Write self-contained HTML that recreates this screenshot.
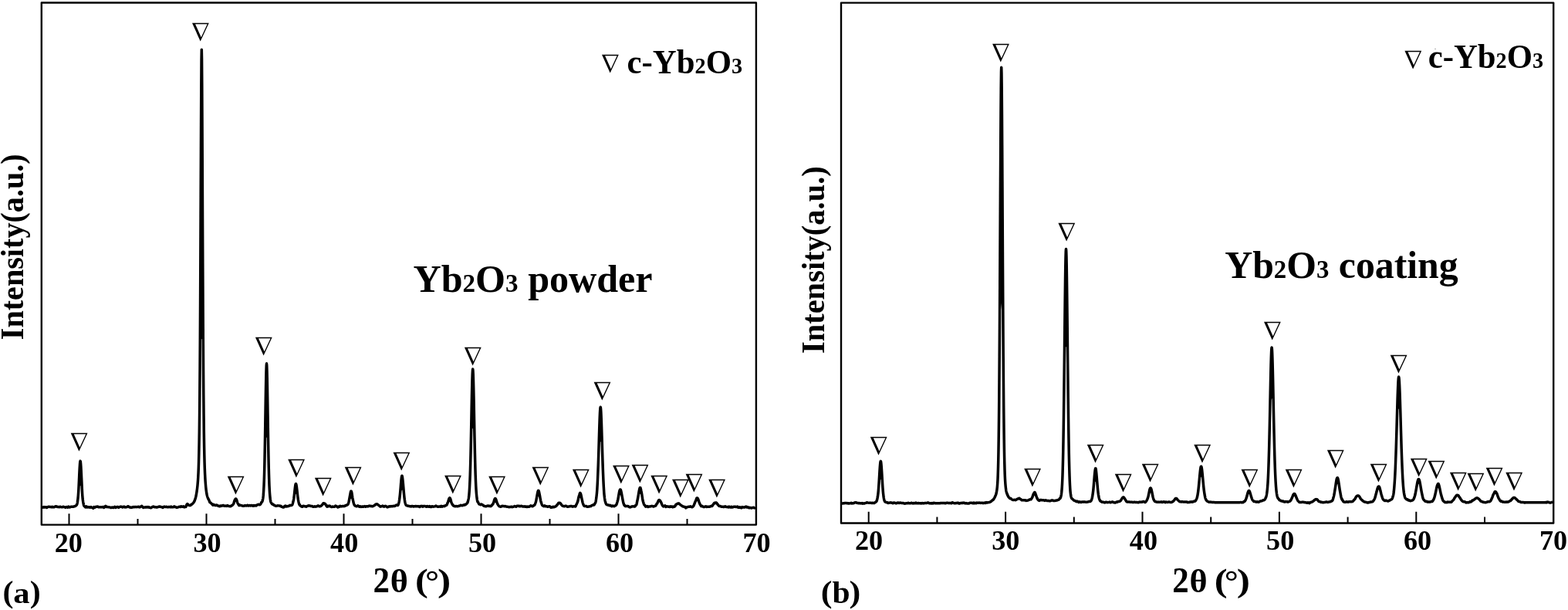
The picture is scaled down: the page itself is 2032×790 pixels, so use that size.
<!DOCTYPE html>
<html lang="en">
<head>
<meta charset="utf-8">
<title>XRD patterns</title>
<style>
html,body{margin:0;padding:0;background:#fff;}
body{width:2032px;height:790px;overflow:hidden;}
svg{display:block;}
.t{font-family:"Liberation Serif","DejaVu Serif",serif;font-weight:bold;fill:#000;white-space:pre;}
</style>
</head>
<body>
<svg width="2032" height="790" viewBox="0 0 2032 790">
<rect width="2032" height="790" fill="#fff"/>
<rect x="53.8" y="3.5" width="926.1" height="676.1" fill="none" stroke="#000" stroke-width="2.4" stroke-linejoin="round"/>
<path d="M89.5 679.6V665.2M178.5 679.6V672M267.5 679.6V665.2M356.5 679.6V672M445.5 679.6V665.2M534.5 679.6V672M623.5 679.6V665.2M712.5 679.6V672M801.5 679.6V665.2M890.5 679.6V672" stroke="#000" stroke-width="2" fill="none"/>
<rect x="1090" y="3.6" width="923.2" height="673.9" fill="none" stroke="#000" stroke-width="2.4" stroke-linejoin="round"/>
<path d="M1125.7 677.5V662.8M1214.4 677.5V669.4M1303.1 677.5V662.8M1391.8 677.5V669.4M1480.5 677.5V662.8M1569.2 677.5V669.4M1657.9 677.5V662.8M1746.6 677.5V669.4M1835.3 677.5V662.8M1924 677.5V669.4" stroke="#000" stroke-width="2" fill="none"/>
<text transform="translate(70.81 714.8) scale(1.015 1)" font-size="35.6" class="t">20</text>
<text transform="translate(250.49 714.8) scale(1.015 1)" font-size="35.6" class="t">30</text>
<text transform="translate(428.12 714.8) scale(1.015 1)" font-size="35.6" class="t">40</text>
<text transform="translate(607 714.8) scale(1.015 1)" font-size="35.6" class="t">50</text>
<text transform="translate(784.95 714.8) scale(1.015 1)" font-size="35.6" class="t">60</text>
<text transform="translate(962.44 714.8) scale(1.015 1)" font-size="35.6" class="t">70</text>
<text transform="translate(1108.06 712.3) scale(1.015 1)" font-size="35.6" class="t">20</text>
<text transform="translate(1285.24 712.3) scale(1.015 1)" font-size="35.6" class="t">30</text>
<text transform="translate(1463.82 712.3) scale(1.015 1)" font-size="35.6" class="t">40</text>
<text transform="translate(1641.1 712.3) scale(1.015 1)" font-size="35.6" class="t">50</text>
<text transform="translate(1819 712.3) scale(1.015 1)" font-size="35.6" class="t">60</text>
<text transform="translate(1994.99 712.3) scale(1.015 1)" font-size="35.6" class="t">70</text>
<text transform="translate(30.3 440.25) rotate(-90) scale(1.0042 1.05)" font-size="40" class="t">Intensity(a.u.)</text>
<text transform="translate(1068.1 458.06) rotate(-90) scale(1.0118 1.05)" font-size="40" class="t">Intensity(a.u.)</text>
<text class="t"><tspan x="483.6" y="766.7" font-size="45.5" textLength="21.44" lengthAdjust="spacingAndGlyphs">2</tspan><tspan x="505.86" y="766.7" font-size="42.5" textLength="23.09" lengthAdjust="spacingAndGlyphs">θ</tspan><tspan font-size="42.5"> </tspan><tspan x="538.08" y="766.4" font-size="42" textLength="16.86" lengthAdjust="spacingAndGlyphs">(</tspan><tspan x="551.14" y="767" font-size="40" textLength="18.07" lengthAdjust="spacingAndGlyphs">°</tspan><tspan x="566.93" y="766.4" font-size="42" textLength="17.24" lengthAdjust="spacingAndGlyphs">)</tspan></text>
<text class="t"><tspan x="1519.35" y="766.5" font-size="45.5" textLength="21.44" lengthAdjust="spacingAndGlyphs">2</tspan><tspan x="1541.61" y="766.5" font-size="42.5" textLength="23.09" lengthAdjust="spacingAndGlyphs">θ</tspan><tspan font-size="42.5"> </tspan><tspan x="1573.83" y="766.2" font-size="42" textLength="16.86" lengthAdjust="spacingAndGlyphs">(</tspan><tspan x="1586.89" y="766.8" font-size="40" textLength="18.07" lengthAdjust="spacingAndGlyphs">°</tspan><tspan x="1602.68" y="766.2" font-size="42" textLength="17.24" lengthAdjust="spacingAndGlyphs">)</tspan></text>
<text class="t"><tspan x="3.55" y="779.9" font-size="39.2" textLength="14" lengthAdjust="spacingAndGlyphs">(</tspan><tspan x="17.33" y="780.9" font-size="38.6" textLength="21.32" lengthAdjust="spacingAndGlyphs">a</tspan><tspan x="38.74" y="779.9" font-size="39.2" textLength="14" lengthAdjust="spacingAndGlyphs">)</tspan></text>
<text class="t"><tspan x="1063.85" y="780" font-size="39.2" textLength="14.78" lengthAdjust="spacingAndGlyphs">(</tspan><tspan x="1078.57" y="781.1" font-size="40.5" textLength="23.11" lengthAdjust="spacingAndGlyphs">b</tspan><tspan x="1100.47" y="780" font-size="39.2" textLength="14.78" lengthAdjust="spacingAndGlyphs">)</tspan></text>
<text transform="translate(535.52 377.8) scale(0.9732 1)" font-size="51.5" class="t">Yb<tspan font-size="34">2</tspan>O<tspan font-size="34">3</tspan> powder</text>
<text transform="translate(1587.22 360.3) scale(0.9667 1)" font-size="51.5" class="t">Yb<tspan font-size="34">2</tspan>O<tspan font-size="34">3</tspan> coating</text>
<text transform="translate(812.54 94.7) scale(0.9732 1)" font-size="44" class="t">c-Yb<tspan font-size="29">2</tspan>O<tspan font-size="29">3</tspan></text>
<text transform="translate(1850.74 88.1) scale(0.9712 1)" font-size="44" class="t">c-Yb<tspan font-size="29">2</tspan>O<tspan font-size="29">3</tspan></text>
<path d="M249 29.75H270.8L259.68 53.55ZM253.05 31.2L260.68 48.2L268.62 31.2ZM780 70.75H801.8L790.68 94.55ZM784.05 72.2L791.68 89.2L799.62 72.2ZM91.7 560.75H113.5L102.38 584.55ZM95.75 562.2L103.38 579.2L111.32 562.2ZM294.7 616.75H316.5L305.38 640.55ZM298.75 618.2L306.38 635.2L314.32 618.2ZM330.9 436.75H352.7L341.58 460.55ZM334.95 438.2L342.58 455.2L350.52 438.2ZM373.2 594.75H395L383.88 618.55ZM377.25 596.2L384.88 613.2L392.82 596.2ZM407.9 618.75H429.7L418.58 642.55ZM411.95 620.2L419.58 637.2L427.52 620.2ZM446.7 604.75H468.5L457.38 628.55ZM450.75 606.2L458.38 623.2L466.32 606.2ZM509.5 585.75H531.3L520.18 609.55ZM513.55 587.2L521.18 604.2L529.12 587.2ZM576.1 615.75H597.9L586.78 639.55ZM580.15 617.2L587.78 634.2L595.72 617.2ZM601.9 449.75H623.7L612.58 473.55ZM605.95 451.2L613.58 468.2L621.52 451.2ZM633.2 616.75H655L643.88 640.55ZM637.25 618.2L644.88 635.2L652.82 618.2ZM689.5 604.75H711.3L700.18 628.55ZM693.55 606.2L701.18 623.2L709.12 606.2ZM741.9 607.75H763.7L752.58 631.55ZM745.95 609.2L753.58 626.2L761.52 609.2ZM769.6 494.75H791.4L780.28 518.55ZM773.65 496.2L781.28 513.2L789.22 496.2ZM794.1 602.75H815.9L804.78 626.55ZM798.15 604.2L805.78 621.2L813.72 604.2ZM818.6 601.75H840.4L829.28 625.55ZM822.65 603.2L830.28 620.2L838.22 603.2ZM843.35 615.75H865.15L854.03 639.55ZM847.4 617.2L855.03 634.2L862.97 617.2ZM871 620.75H892.8L881.68 644.55ZM875.05 622.2L882.68 639.2L890.62 622.2ZM888.6 613.75H910.4L899.28 637.55ZM892.65 615.2L900.28 632.2L908.22 615.2ZM918.2 620.75H940L928.88 644.55ZM922.25 622.2L929.88 639.2L937.82 622.2ZM1286.1 56.75H1307.9L1296.78 80.55ZM1290.15 58.2L1297.78 75.2L1305.72 58.2ZM1820.4 65.75H1842.2L1831.08 89.55ZM1824.45 67.2L1832.08 84.2L1840.02 67.2ZM1127.8 565.75H1149.6L1138.48 589.55ZM1131.85 567.2L1139.48 584.2L1147.42 567.2ZM1327.2 606.75H1349L1337.88 630.55ZM1331.25 608.2L1338.88 625.2L1346.82 608.2ZM1371.4 288.75H1393.2L1382.08 312.55ZM1375.45 290.2L1383.08 307.2L1391.02 290.2ZM1408.8 575.75H1430.6L1419.48 599.55ZM1412.85 577.2L1420.48 594.2L1428.42 577.2ZM1444.8 613.75H1466.6L1455.48 637.55ZM1448.85 615.2L1456.48 632.2L1464.42 615.2ZM1479.8 600.75H1501.6L1490.48 624.55ZM1483.85 602.2L1491.48 619.2L1499.42 602.2ZM1547.3 575.75H1569.1L1557.98 599.55ZM1551.35 577.2L1558.98 594.2L1566.92 577.2ZM1608.5 607.75H1630.3L1619.18 631.55ZM1612.55 609.2L1620.18 626.2L1628.12 609.2ZM1638 416.75H1659.8L1648.68 440.55ZM1642.05 418.2L1649.68 435.2L1657.62 418.2ZM1665.7 607.75H1687.5L1676.38 631.55ZM1669.75 609.2L1677.38 626.2L1685.32 609.2ZM1719.9 582.75H1741.7L1730.58 606.55ZM1723.95 584.2L1731.58 601.2L1739.52 584.2ZM1775.7 600.75H1797.5L1786.38 624.55ZM1779.75 602.2L1787.38 619.2L1795.32 602.2ZM1801.7 459.75H1823.5L1812.38 483.55ZM1805.75 461.2L1813.38 478.2L1821.32 461.2ZM1827.9 593.75H1849.7L1838.58 617.55ZM1831.95 595.2L1839.58 612.2L1847.52 595.2ZM1850.5 596.75H1872.3L1861.18 620.55ZM1854.55 598.2L1862.18 615.2L1870.12 598.2ZM1878.9 611.75H1900.7L1889.58 635.55ZM1882.95 613.2L1890.58 630.2L1898.52 613.2ZM1901.5 612.75H1923.3L1912.18 636.55ZM1905.55 614.2L1913.18 631.2L1921.12 614.2ZM1925.7 605.75H1947.5L1936.38 629.55ZM1929.75 607.2L1937.38 624.2L1945.32 607.2ZM1951.3 611.75H1973.1L1961.98 635.55ZM1955.35 613.2L1962.98 630.2L1970.92 613.2Z" fill="#000" fill-rule="nonzero"/>
<circle cx="1860" cy="63.2" r="0.55" fill="#444"/>
<path d="M102.1 629.14L102.35 623.83L102.6 618.31L102.8 613.87L102.85 612.83L103.1 607.88L103.35 603.51L103.6 600.07L103.8 598.2L103.85 597.87L104.1 597.11L104.35 597.92L104.6 600.21L104.8 602.96L104.85 603.73L105.1 608.08L105.35 613.02L105.6 618.22L105.8 622.39L105.85 623.52L106.1 628.97ZM240.8 656.48L241 656L241.25 655.36L241.5 654.69L241.75 654.01L241.8 653.87L242 653.56L242.25 653.19L242.5 652.87L242.75 652.61L242.8 652.57L243 652.68L243.25 652.91L243.5 653.2L243.75 653.56L243.8 653.64L244 653.78L244.25 653.98L244.5 654.17L244.75 654.34L244.8 654.37L245 654.47ZM259.3 438.96L259.55 392.34L259.8 339.21L260.05 281.37L260.3 221L260.55 162.49L260.8 112.17L261.05 77.09L261.3 64.36L261.55 76.66L261.8 111.32L262.05 162.08L262.3 221.03L262.55 281.84L262.8 340.12L263.05 392.89L263.3 439.15ZM303.2 650.86L303.45 649.98L303.7 649.1L303.8 648.75L303.95 648.35L304.2 647.73L304.45 647.21L304.7 646.8L304.8 646.68L304.95 646.41L305.2 646.11L305.45 645.98L305.7 646.04L305.8 646.11L305.95 646.28L306.2 646.65L306.45 647.12L306.7 647.64L306.8 647.85L306.95 648.37L307.2 649.23ZM343.5 566.36L343.75 550.8L343.8 547.59L344 534.81L344.25 518.88L344.5 503.77L344.75 490.41L344.8 488.04L345 479.88L345.25 473.12L345.5 470.82L345.75 473.26L345.8 474.3L346 480.17L346.25 490.83L346.5 504.27L346.75 519.47L346.8 522.64L347 535.51L347.25 551.56L347.5 566.99ZM381.5 639.46L381.75 637.16L381.8 636.7L382 634.8L382.25 632.5L382.5 630.38L382.75 628.54L382.8 628.21L383 627.33L383.25 626.67L383.5 626.56L383.75 627.03L383.8 627.19L384 627.99L384.25 629.43L384.5 631.25L384.75 633.36L384.8 633.81L385 635.56L385.25 637.82L385.5 640.08ZM417.5 653.86L417.75 653.62L417.8 653.58L418 653.22L418.25 652.78L418.5 652.38L418.75 652.01L418.8 651.94L419 651.85L419.25 651.8L419.5 651.82L419.75 651.92L419.8 651.94L420 651.92L420.25 651.95L420.5 652.03L420.75 652.15L420.8 652.18L421 652.33L421.25 652.54L421.5 652.75ZM452.8 645.88L453 644.81L453.25 643.43L453.5 642.05L453.75 640.71L453.8 640.46L454 639.29L454.25 638L454.5 636.97L454.75 636.25L454.8 636.15L455 636.06L455.25 636.28L455.5 636.86L455.75 637.76L455.8 637.97L456 639.12L456.25 640.72L456.5 642.44L456.75 644.21L456.8 644.56L457 645.64ZM486.4 653.57L486.65 653.31L486.8 653.16L486.9 653.12L487.15 653.03L487.4 652.97L487.65 652.94L487.8 652.94L487.9 652.91L488.15 652.85L488.4 652.86L488.65 652.92L488.8 652.98L488.9 653.02L489.15 653.15L489.4 653.33L489.65 653.54L489.8 653.67L489.9 653.74L490.15 653.93L490.4 654.12ZM518.8 636.08L519 633.66L519.25 630.55L519.5 627.42L519.75 624.4L519.8 623.82L520 621.68L520.25 619.35L520.5 617.54L520.75 616.39L520.8 616.25L521 616.19L521.25 616.82L521.5 618.2L521.75 620.23L521.8 620.7L522 622.45L522.25 624.97L522.5 627.73L522.75 630.59L522.8 631.17L523 633.63ZM580.7 649.82L580.8 649.56L580.95 649.01L581.2 648.09L581.45 647.21L581.7 646.4L581.8 646.1L581.95 645.75L582.2 645.29L582.45 644.97L582.7 644.83L582.8 644.82L582.95 644.91L583.2 645.21L583.45 645.65L583.7 646.22L583.8 646.48L583.95 647.02L584.2 647.96L584.45 648.94L584.7 649.93L584.8 650.32ZM610.7 552.43L610.8 547.13L610.95 539.17L611.2 526L611.45 513.33L611.7 501.72L611.8 497.5L611.95 491.87L612.2 484.34L612.45 479.61L612.7 478.03L612.8 478.33L612.95 479.63L613.2 484.31L613.45 491.77L613.7 501.49L613.8 505.87L613.95 513.1L614.2 525.92L614.45 539.25L614.7 552.62L614.8 557.89ZM639.6 650.98L639.8 650.5L639.85 650.31L640.1 649.36L640.35 648.46L640.6 647.61L640.8 647L640.85 646.87L641.1 646.3L641.35 645.87L641.6 645.6L641.8 645.5L641.85 645.52L642.1 645.72L642.35 646.06L642.6 646.52L642.8 646.96L642.85 647.12L643.1 647.96L643.35 648.83L643.6 649.71L643.8 650.41ZM667.8 655.73L668 655.83L668.25 655.94L668.5 656.06L668.75 656.19L668.8 656.22L669 656.03L669.25 655.8L669.5 655.59L669.75 655.41L669.8 655.38L670 655.31L670.25 655.25L670.5 655.21L670.75 655.2L670.8 655.2L671 655.22L671.25 655.26L671.5 655.32L671.75 655.37L671.8 655.39L672 655.38ZM695.8 642.77L696.05 641.35L696.3 639.97L696.55 638.67L696.8 637.51L697.05 636.56L697.3 635.85L697.55 635.43L697.8 635.31L698.05 635.65L698.3 636.3L698.55 637.23L698.8 638.4L699.05 639.55L699.3 640.83L699.55 642.19L699.8 643.59ZM722.8 653.19L722.9 653L723.15 652.52L723.4 652.06L723.65 651.62L723.8 651.36L723.9 651.34L724.15 651.32L724.4 651.34L724.65 651.41L724.8 651.48L724.9 651.44L725.15 651.36L725.4 651.35L725.65 651.38L725.8 651.43L725.9 651.51L726.15 651.72L726.4 651.97L726.65 652.23L726.8 652.4L726.9 652.56ZM749.8 644.44L750.05 643.49L750.3 642.57L750.55 641.73L750.8 641L751.05 640.03L751.3 639.25L751.55 638.7L751.8 638.39L752.05 638.57L752.3 638.99L752.55 639.63L752.8 640.46L753.05 641.5L753.3 642.66L753.55 643.88L753.8 645.15ZM776.2 571.73L776.45 563.4L776.7 555.3L776.8 552.19L776.95 547.7L777.2 540.88L777.45 535.15L777.7 530.82L777.8 529.54L777.95 528.12L778.2 527.22L778.45 528.19L778.7 530.98L778.8 532.57L778.95 535.41L779.2 541.23L779.45 548.14L779.7 555.85L779.8 559.09L779.95 564.03L780.2 572.43ZM801.8 641.22L801.9 640.66L802.15 639.27L802.4 637.93L802.65 636.68L802.8 636L802.9 635.64L803.15 634.85L803.4 634.3L803.65 634.01L803.8 633.97L803.9 633.97L804.15 634.17L804.4 634.66L804.65 635.41L804.8 635.97L804.9 636.35L805.15 637.42L805.4 638.64L805.65 639.94L805.8 640.76L805.9 641.31ZM827.6 639.29L827.8 638.09L827.85 637.79L828.1 636.34L828.35 635.01L828.6 633.82L828.8 633.03L828.85 632.84L829.1 632.09L829.35 631.63L829.6 631.49L829.8 631.61L829.85 631.7L830.1 632.29L830.35 633.18L830.6 634.33L830.8 635.39L830.85 635.6L831.1 636.73L831.35 637.97L831.6 639.26L831.8 640.32ZM852.25 650.73L852.5 650.15L852.75 649.59L852.8 649.48L853 649.04L853.25 648.55L853.5 648.12L853.75 647.76L853.8 647.7L854 647.61L854.25 647.57L854.5 647.63L854.75 647.78L854.8 647.82L855 647.95L855.25 648.19L855.5 648.49L855.75 648.84L855.8 648.92L856 649.27L856.25 649.73ZM877.3 652.7L877.55 652.61L877.8 652.54L878.05 652.36L878.3 652.21L878.55 652.08L878.8 651.97L879.05 651.93L879.3 651.91L879.55 651.93L879.8 651.98L880.05 652.17L880.3 652.39L880.55 652.63L880.8 652.9L881.05 653.14L881.3 653.4ZM901.7 648.4L901.8 648.21L901.95 647.73L902.2 646.95L902.45 646.22L902.7 645.57L902.8 645.32L902.95 645.16L903.2 644.96L903.45 644.88L903.7 644.93L903.8 644.98L903.95 645.14L904.2 645.49L904.45 645.95L904.7 646.52L904.8 646.77L904.95 647.17L905.2 647.88L905.45 648.64L905.7 649.44L905.8 649.76ZM925.7 651.41L925.8 651.29L925.95 651.31L926.2 651.36L926.45 651.44L926.7 651.55L926.8 651.6L926.95 651.45L927.2 651.22L927.45 651.05L927.7 650.93L927.8 650.9L927.95 650.93L928.2 651.02L928.45 651.17L928.7 651.35L928.8 651.44L928.95 651.65L929.2 652.03L929.45 652.43L929.7 652.85L929.8 653.02Z" fill="#000"/>
<path d="M54.8 656.86L55.8 657.23L56.8 656.45L57.8 657.08L58.8 656.68L59.8 656.73L60.8 657.48L61.8 656.7L62.8 656.26L63.8 656.32L64.8 656.59L65.8 656.45L66.8 656.79L67.8 656.36L68.8 656.75L69.8 656.82L70.8 656.34L71.8 655.91L72.8 655.69L73.8 656.27L74.8 656.52L75.8 656.59L76.8 656.71L77.8 656.2L78.8 656.61L79.8 656.67L80.8 656.76L81.8 656.18L82.8 656.61L83.8 656.63L84.8 657.41L85.8 656.66L86.8 656.57L87.8 657.23L88.8 656.06L89.8 656.97L90.8 656.73L91.6 656.44L91.8 656.37L91.85 656.37L92.1 656.37L92.35 656.36L92.6 656.36L92.8 656.36L92.85 656.35L93.1 656.31L93.35 656.27L93.6 656.23L93.8 656.2L93.85 656.2L94.1 656.24L94.35 656.28L94.6 656.32L94.8 656.35L94.85 656.33L95.1 656.23L95.35 656.13L95.6 656.03L95.8 655.94L95.85 655.93L96.1 655.88L96.35 655.82L96.6 655.75L96.8 655.7L96.85 655.68L97.1 655.61L97.35 655.52L97.6 655.43L97.8 655.34L97.85 655.31L98.1 655.14L98.35 654.95L98.6 654.72L98.8 654.51L98.85 654.47L99.1 654.24L99.35 653.92L99.6 653.46L99.8 652.97L99.85 652.81L100.1 651.81L100.35 650.53L100.6 648.88L100.8 647.25L100.85 646.84L101.1 644.49L101.35 641.6L101.6 638.14L101.8 634.98L101.85 634.05L102.1 629.14L102.35 623.83L102.6 618.31L102.8 613.87L102.85 612.83L103.1 607.88L103.35 603.51L103.6 600.07L103.8 598.2L103.85 597.87L104.1 597.11L104.35 597.92L104.6 600.21L104.8 602.96L104.85 603.73L105.1 608.08L105.35 613.02L105.6 618.22L105.8 622.39L105.85 623.52L106.1 628.97L106.35 634.03L106.6 638.59L106.8 641.85L106.85 642.48L107.1 645.28L107.35 647.54L107.6 649.31L107.8 650.41L107.85 650.75L108.1 652.21L108.35 653.37L108.6 654.31L108.8 654.93L108.85 655.01L109.1 655.36L109.35 655.6L109.6 655.78L109.8 655.89L109.85 655.95L110.1 656.22L110.35 656.46L110.6 656.69L110.8 656.86L110.85 656.81L111.1 656.55L111.35 656.28L111.6 656.01L111.8 655.79L111.85 655.85L112.1 656.16L112.35 656.47L112.6 656.78L112.8 657.02L112.85 657L113.1 656.9L113.35 656.8L113.6 656.7L113.8 656.61L113.85 656.63L114.1 656.71L114.35 656.79L114.6 656.87L114.8 656.93L114.85 656.93L115.1 656.89L115.35 656.86L115.6 656.82L115.8 656.8L115.85 656.82L116.1 656.93L116.35 657.03L116.6 657.14L116.8 657.23L117.8 656.64L118.8 657.16L119.8 657.61L120.8 658.26L121.8 656.52L122.8 657.2L123.8 656.69L124.8 656.15L125.8 656.31L126.8 655.99L127.8 656.85L128.8 656.65L129.8 656.65L130.8 656.66L131.8 656.68L132.8 656.69L133.8 656.43L134.8 657.38L135.8 656.02L136.8 655.39L137.8 656.44L138.8 656.37L139.8 656.67L140.8 656.72L141.8 656.86L142.8 657.12L143.8 657.53L144.8 657.15L145.8 657.04L146.8 657.53L147.8 656.91L148.8 656.36L149.8 657.39L150.8 656.82L151.8 656.5L152.8 656.57L153.8 657.2L154.8 656.68L155.8 656.32L156.8 656.1L157.8 656.36L158.8 656.89L159.8 656.36L160.8 656.09L161.8 656.92L162.8 656.78L163.8 656.8L164.8 656.43L165.8 655.72L166.8 656.12L167.8 656.94L168.8 656.97L169.8 657.39L170.8 657.25L171.8 656.66L172.8 656.58L173.8 656.69L174.8 656.57L175.8 656.54L176.8 656.64L177.8 656.47L178.8 656.62L179.8 656.25L180.8 656.91L181.8 656.64L182.8 655.9L183.8 655.35L184.8 656.42L185.8 657.38L186.8 657.05L187.8 657.02L188.8 656.77L189.8 657.07L190.8 656.51L191.8 657.1L192.8 656.64L193.8 657.32L194.8 657.56L195.8 657.74L196.8 656.9L197.8 656.33L198.8 656.06L199.8 656.56L200.8 656.8L201.8 656.67L202.8 656.96L203.8 656.99L204.8 656.53L205.8 656.3L206.8 656.05L207.8 656.32L208.8 656.56L209.8 656.71L210.8 657.48L211.8 656.86L212.8 656.11L213.8 656.44L214.8 656.46L215.8 656.26L216.8 656.69L217.8 656.81L218.8 656.39L219.8 656.54L220.8 656.83L221.8 656.05L222.8 656.79L223.8 656.82L224.8 656.53L225.8 655.8L226.8 656.57L227.8 656.61L228.8 657.3L229.8 657.2L230.8 656.85L231.8 656.41L232.5 656.34L232.75 656.32L232.8 656.31L233 656.35L233.25 656.39L233.5 656.44L233.75 656.48L233.8 656.49L234 656.34L234.25 656.15L234.5 655.96L234.75 655.78L234.8 655.74L235 655.83L235.25 655.94L235.5 656.05L235.75 656.16L235.8 656.18L236 656.18L236.25 656.18L236.5 656.17L236.75 656.17L236.8 656.17L237 656.11L237.25 656.03L237.5 655.95L237.75 655.88L237.8 655.86L238 656.06L238.25 656.3L238.5 656.54L238.75 656.78L238.8 656.83L239 656.71L239.25 656.56L239.5 656.39L239.75 656.21L239.8 656.17L240 656.28L240.25 656.38L240.5 656.45L240.75 656.48L240.8 656.48L241 656L241.25 655.36L241.5 654.69L241.75 654.01L241.8 653.87L242 653.56L242.25 653.19L242.5 652.87L242.75 652.61L242.8 652.57L243 652.68L243.25 652.91L243.5 653.2L243.75 653.56L243.8 653.64L244 653.78L244.25 653.98L244.5 654.17L244.75 654.34L244.8 654.37L245 654.47L245.25 654.56L245.5 654.6L245.75 654.61L245.8 654.6L246 654.62L246.25 654.63L246.5 654.6L246.75 654.56L246.8 654.55L247 654.33L247.25 654.04L247.5 653.74L247.75 653.43L247.8 653.37L248 653.32L248.25 653.24L248.5 653.16L248.75 653.06L248.8 653.04L249 652.84L249.25 652.58L249.5 652.3L249.75 652L249.8 651.94L250 651.75L250.25 651.5L250.3 651.45L250.5 651.23L250.55 651.17L250.75 650.93L250.8 650.87L251 650.61L251.05 650.54L251.25 650.26L251.3 650.19L251.5 649.88L251.55 649.8L251.75 649.47L251.8 649.38L252 648.9L252.05 648.78L252.25 648.26L252.3 648.13L252.5 647.58L252.55 647.44L252.75 646.84L252.8 646.69L253 646.12L253.05 645.97L253.25 645.35L253.3 645.19L253.5 644.51L253.55 644.33L253.8 643.38L254.05 642.2L254.3 640.91L254.55 639.49L254.8 637.94L255.05 636.36L255.3 634.6L255.55 632.62L255.8 630.38L256.05 627.88L256.3 624.98L256.55 621.56L256.8 617.46L257.05 612.4L257.3 606.12L257.55 598.21L257.8 588.13L258.05 575.33L258.3 558.89L258.55 537.91L258.8 511.52L259.05 478.63L259.3 438.96L259.55 392.34L259.8 339.21L260.05 281.37L260.3 221L260.55 162.49L260.8 112.17L261.05 77.09L261.3 64.36L261.55 76.66L261.8 111.32L262.05 162.08L262.3 221.03L262.55 281.84L262.8 340.12L263.05 392.89L263.3 439.15L263.55 478.47L263.8 511L264.05 537.7L264.3 558.98L264.55 575.73L264.8 588.83L265.05 598.82L265.3 606.64L265.55 612.82L265.8 617.78L266.05 622.05L266.3 625.65L266.55 628.72L266.8 631.39L267.05 633.69L267.3 635.73L267.55 637.54L267.8 639.17L268.05 640.38L268.3 641.45L268.55 642.4L268.8 643.24L269.05 644.01L269.3 644.7L269.55 645.32L269.8 645.87L270.05 646.36L270.3 646.8L270.55 647.2L270.8 647.55L271.05 648.29L271.3 649L271.55 649.68L271.8 650.32L272.05 650.53L272.3 650.71L272.8 651.01L273.8 651.99L274.8 652.86L275.8 654.12L276.8 653.31L277.8 654.24L278.8 654.17L279.8 654.62L280.8 654.01L281.8 654.64L282.8 655.17L283.8 655.55L284.8 655.76L285.8 655.04L286.8 655.27L287.8 655.02L288.8 654.5L289.8 654.54L290.8 655.37L291.45 655.29L291.7 655.26L291.8 655.25L291.95 655.22L292.2 655.17L292.45 655.12L292.7 655.07L292.8 655.05L292.95 655.1L293.2 655.18L293.45 655.26L293.7 655.34L293.8 655.37L293.95 655.25L294.2 655.04L294.45 654.84L294.7 654.63L294.8 654.55L294.95 654.66L295.2 654.84L295.45 655.02L295.7 655.2L295.8 655.27L295.95 655.31L296.2 655.37L296.45 655.43L296.7 655.49L296.8 655.52L296.95 655.54L297.2 655.58L297.45 655.62L297.7 655.66L297.8 655.68L297.95 655.67L298.2 655.66L298.45 655.65L298.7 655.63L298.8 655.63L298.95 655.54L299.2 655.4L299.45 655.25L299.7 655.09L299.8 655.02L299.95 654.97L300.2 654.85L300.45 654.71L300.7 654.55L300.8 654.47L300.95 654.38L301.2 654.19L301.45 653.94L301.7 653.65L301.8 653.51L301.95 653.38L302.2 653.11L302.45 652.77L302.7 652.37L302.8 652.19L302.95 651.7L303.2 650.86L303.45 649.98L303.7 649.1L303.8 648.75L303.95 648.35L304.2 647.73L304.45 647.21L304.7 646.8L304.8 646.68L304.95 646.41L305.2 646.11L305.45 645.98L305.7 646.04L305.8 646.11L305.95 646.28L306.2 646.65L306.45 647.12L306.7 647.64L306.8 647.85L306.95 648.37L307.2 649.23L307.45 650.06L307.7 650.85L307.8 651.14L307.95 651.47L308.2 651.96L308.45 652.38L308.7 652.73L308.8 652.86L308.95 653.18L309.2 653.66L309.45 654.1L309.7 654.49L309.8 654.64L309.95 654.6L310.2 654.52L310.45 654.42L310.7 654.3L310.8 654.25L310.95 654.27L311.2 654.31L311.45 654.33L311.7 654.35L311.8 654.36L311.95 654.4L312.2 654.47L312.45 654.54L312.7 654.6L312.8 654.63L312.95 654.67L313.2 654.75L313.45 654.83L313.7 654.91L313.8 654.94L313.95 654.98L314.2 655.05L314.45 655.11L314.7 655.18L314.8 655.21L314.95 655.22L315.2 655.25L315.45 655.28L315.7 655.31L315.8 655.32L315.95 655.26L316.2 655.16L316.45 655.06L316.7 654.96L316.8 654.92L316.95 654.87L317.2 654.78L317.45 654.7L317.7 654.61L317.8 654.58L317.95 654.65L318.2 654.76L318.45 654.88L318.7 654.99L318.8 655.04L318.95 655.02L319.8 654.89L320.8 654.35L321.8 654.93L322.8 654.72L323.8 654.46L324.8 654.98L325.8 654.45L326.8 654.77L327.8 655.25L328.8 654.55L329.8 655.05L330.8 654.51L331.8 654.93L332.75 654.02L332.8 653.97L333 653.96L333.25 653.95L333.5 653.94L333.75 653.92L333.8 653.92L334 653.78L334.25 653.62L334.5 653.44L334.75 653.26L334.8 653.23L335 653.3L335.25 653.4L335.5 653.48L335.75 653.56L335.8 653.58L336 653.61L336.25 653.65L336.5 653.68L336.75 653.7L336.8 653.7L337 653.52L337.25 653.29L337.5 653.04L337.75 652.77L337.8 652.72L338 652.33L338.25 651.84L338.5 651.31L338.75 650.75L338.8 650.64L339 650.53L339.25 650.34L339.5 650.08L339.75 649.73L339.8 649.64L340 649.11L340.25 648.28L340.5 647.21L340.75 645.8L340.8 645.47L341 643.89L341.25 641.39L341.5 638.15L341.75 633.98L341.8 633.02L342 628.88L342.25 622.53L342.5 614.7L342.75 605.29L342.8 603.21L343 593.9L343.25 580.84L343.5 566.36L343.75 550.8L343.8 547.59L344 534.81L344.25 518.88L344.5 503.77L344.75 490.41L344.8 488.04L345 479.88L345.25 473.12L345.5 470.82L345.75 473.26L345.8 474.3L346 480.17L346.25 490.83L346.5 504.27L346.75 519.47L346.8 522.64L347 535.51L347.25 551.56L347.5 566.99L347.75 581.32L347.8 584.02L348 594.04L348.25 605.13L348.5 614.59L348.75 622.45L348.8 623.85L349 628.95L349.25 634.17L349.5 638.27L349.75 641.45L349.8 642L350 644.11L350.25 646.24L350.5 647.93L350.75 649.29L350.8 649.53L351 650.11L351.25 650.67L351.5 651.11L351.75 651.45L351.8 651.51L352 651.86L352.25 652.25L352.5 652.59L352.75 652.91L352.8 652.97L353 652.98L353.25 652.98L353.5 652.96L353.75 652.92L353.8 652.91L354 653.15L354.25 653.44L354.5 653.72L354.75 653.99L354.8 654.04L355 654.15L355.25 654.27L355.5 654.39L355.75 654.51L355.8 654.53L356 654.64L356.25 654.78L356.5 654.91L356.75 655.04L356.8 655.06L357 655.11L357.25 655.17L357.5 655.22L357.75 655.27L357.8 655.28L358 655.28L358.25 655.27L358.8 655.25L359.8 654.79L360.8 654.88L361.8 655L362.8 655.29L363.8 655.13L364.8 656.26L365.8 656.37L366.8 657.08L367.8 656.81L368.8 655.55L369.5 655.18L369.75 655.05L369.8 655.02L370 655.23L370.25 655.49L370.5 655.74L370.75 656L370.8 656.05L371 655.96L371.25 655.84L371.5 655.73L371.75 655.61L371.8 655.59L372 655.62L372.25 655.67L372.5 655.71L372.75 655.75L372.8 655.76L373 655.69L373.25 655.6L373.5 655.51L373.75 655.41L373.8 655.4L374 655.33L374.25 655.24L374.5 655.16L374.75 655.07L374.8 655.05L375 654.9L375.25 654.72L375.5 654.53L375.75 654.33L375.8 654.29L376 654.37L376.25 654.46L376.5 654.54L376.75 654.61L376.8 654.63L377 654.61L377.25 654.57L377.5 654.51L377.75 654.43L377.8 654.41L378 654.33L378.25 654.19L378.5 653.98L378.75 653.7L378.8 653.63L379 653.09L379.25 652.3L379.5 651.37L379.75 650.28L379.8 650.04L380 649.36L380.25 648.33L380.5 647.09L380.75 645.65L380.8 645.34L381 643.78L381.25 641.69L381.5 639.46L381.75 637.16L381.8 636.7L382 634.8L382.25 632.5L382.5 630.38L382.75 628.54L382.8 628.21L383 627.33L383.25 626.67L383.5 626.56L383.75 627.03L383.8 627.19L384 627.99L384.25 629.43L384.5 631.25L384.75 633.36L384.8 633.81L385 635.56L385.25 637.82L385.5 640.08L385.75 642.25L385.8 642.68L386 644.18L386.25 645.92L386.5 647.45L386.75 648.78L386.8 649.02L387 650.07L387.25 651.21L387.5 652.17L387.75 652.96L387.8 653.1L388 653.52L388.25 653.93L388.5 654.25L388.75 654.49L388.8 654.53L389 654.75L389.25 654.98L389.5 655.17L389.75 655.34L389.8 655.37L390 655.52L390.25 655.69L390.5 655.84L390.75 655.99L390.8 656.02L391 656.08L391.25 656.15L391.5 656.22L391.75 656.28L391.8 656.29L392 656.08L392.25 655.82L392.5 655.56L392.75 655.29L392.8 655.24L393 655.28L393.25 655.34L393.5 655.39L393.75 655.44L393.8 655.45L394 655.5L394.25 655.56L394.5 655.63L394.75 655.69L394.8 655.7L395 655.73L395.25 655.77L395.5 655.81L395.75 655.85L395.8 655.86L396 655.92L396.25 656L396.5 656.08L396.75 656.16L396.8 656.17L397 656.05L397.25 655.9L397.5 655.75L397.8 655.58L398.8 655.21L399.8 654.81L400.8 654.97L401.8 654.96L402.8 655.46L403.8 655.44L404.5 655.57L404.75 655.62L404.8 655.63L405 655.77L405.25 655.94L405.5 656.11L405.75 656.28L405.8 656.32L406 656.31L406.25 656.31L406.5 656.3L406.75 656.3L406.8 656.29L407 656.19L407.25 656.06L407.5 655.93L407.75 655.8L407.8 655.77L408 655.86L408.25 655.98L408.5 656.09L408.75 656.2L408.8 656.22L409 656.17L409.25 656.1L409.5 656.04L409.75 655.97L409.8 655.96L410 655.92L410.25 655.87L410.5 655.82L410.75 655.77L410.8 655.75L411 655.62L411.25 655.45L411.5 655.28L411.75 655.1L411.8 655.07L412 655.04L412.25 655L412.5 654.96L412.75 654.91L412.8 654.9L413 655.1L413.25 655.33L413.5 655.57L413.75 655.8L413.8 655.84L414 655.83L414.25 655.8L414.5 655.76L414.75 655.71L414.8 655.7L415 655.66L415.25 655.6L415.5 655.51L415.75 655.4L415.8 655.38L416 655.23L416.25 655.02L416.5 654.78L416.75 654.52L416.8 654.46L417 654.3L417.25 654.08L417.5 653.86L417.75 653.62L417.8 653.58L418 653.22L418.25 652.78L418.5 652.38L418.75 652.01L418.8 651.94L419 651.85L419.25 651.8L419.5 651.82L419.75 651.92L419.8 651.94L420 651.92L420.25 651.95L420.5 652.03L420.75 652.15L420.8 652.18L421 652.33L421.25 652.54L421.5 652.75L421.75 652.95L421.8 652.99L422 653.37L422.25 653.84L422.5 654.28L422.75 654.7L422.8 654.78L423 655.08L423.25 655.44L423.5 655.77L423.75 656.08L423.8 656.14L424 655.97L424.25 655.73L424.5 655.48L424.75 655.22L424.8 655.17L425 655.29L425.25 655.44L425.5 655.58L425.75 655.72L425.8 655.75L426 655.6L426.25 655.42L426.5 655.23L426.75 655.04L426.8 655L427 655.09L427.25 655.2L427.5 655.31L427.75 655.41L427.8 655.43L428 655.59L428.25 655.78L428.5 655.98L428.75 656.17L428.8 656.21L429 656.29L429.25 656.38L429.5 656.48L429.75 656.57L429.8 656.59L430 656.49L430.25 656.36L430.5 656.24L430.75 656.12L430.8 656.09L431 656.13L431.25 656.17L431.5 656.21L431.75 656.25L431.8 656.26L432 656.26L432.25 656.26L432.5 656.26L432.75 656.26L432.8 656.26L433 656.24L433.25 656.2L433.5 656.17L433.75 656.14L433.8 656.13L434 655.92L434.25 655.65L434.5 655.38L434.8 655.06L435.8 655.57L436.8 656.07L437.8 656.98L438.8 656.09L439.8 656.37L440.8 655.24L441 655.34L441.25 655.47L441.5 655.6L441.75 655.73L441.8 655.75L442 655.78L442.25 655.81L442.5 655.85L442.75 655.88L442.8 655.89L443 655.8L443.25 655.7L443.5 655.6L443.75 655.5L443.8 655.47L444 655.46L444.25 655.44L444.5 655.41L444.75 655.39L444.8 655.39L445 655.45L445.25 655.53L445.5 655.61L445.75 655.69L445.8 655.7L446 655.63L446.25 655.53L446.5 655.44L446.75 655.34L446.8 655.32L447 655.16L447.25 654.96L447.5 654.76L447.75 654.55L447.8 654.51L448 654.55L448.25 654.59L448.5 654.62L448.75 654.64L448.8 654.64L449 654.49L449.25 654.27L449.5 654.04L449.75 653.77L449.8 653.71L450 653.71L450.25 653.66L450.5 653.54L450.75 653.35L450.8 653.3L451 652.95L451.25 652.42L451.5 651.76L451.75 650.98L451.8 650.81L452 649.99L452.25 648.83L452.5 647.56L452.75 646.17L452.8 645.88L453 644.81L453.25 643.43L453.5 642.05L453.75 640.71L453.8 640.46L454 639.29L454.25 638L454.5 636.97L454.75 636.25L454.8 636.15L455 636.06L455.25 636.28L455.5 636.86L455.75 637.76L455.8 637.97L456 639.12L456.25 640.72L456.5 642.44L456.75 644.21L456.8 644.56L457 645.64L457.25 646.95L457.5 648.17L457.75 649.28L457.8 649.49L458 650.38L458.25 651.36L458.5 652.21L458.75 652.93L458.8 653.06L459 653.52L459.25 654L459.5 654.39L459.75 654.7L459.8 654.75L460 654.92L460.25 655.08L460.5 655.19L460.75 655.28L460.8 655.29L461 655.39L461.25 655.5L461.5 655.59L461.75 655.67L461.8 655.69L462 655.7L462.25 655.71L462.5 655.71L462.75 655.71L462.8 655.71L463 655.54L463.25 655.32L463.5 655.09L463.75 654.87L463.8 654.82L464 654.97L464.25 655.14L464.5 655.31L464.75 655.48L464.8 655.52L465 655.68L465.25 655.87L465.5 656.07L465.75 656.26L465.8 656.3L466 656.18L466.25 656.02L466.5 655.86L466.75 655.7L466.8 655.67L467 655.82L467.25 656.01L467.5 656.2L467.75 656.39L467.8 656.43L468 656.4L468.25 656.35L468.5 656.3L468.75 656.26L468.8 656.25L469 656.19L469.8 655.96L470.8 656.28L471.8 655.93L472.8 655.63L473.4 656.02L473.65 656.18L473.8 656.28L473.9 656.22L474.15 656.06L474.4 655.91L474.65 655.76L474.8 655.66L474.9 655.67L475.15 655.68L475.4 655.68L475.65 655.69L475.8 655.7L475.9 655.72L476.15 655.77L476.4 655.83L476.65 655.88L476.8 655.91L476.9 655.87L477.15 655.75L477.4 655.64L477.65 655.52L477.8 655.45L477.9 655.41L478.15 655.31L478.4 655.2L478.65 655.1L478.8 655.03L478.9 655.07L479.15 655.18L479.4 655.28L479.65 655.38L479.8 655.44L479.9 655.43L480.15 655.41L480.4 655.38L480.65 655.35L480.8 655.34L480.9 655.38L481.15 655.48L481.4 655.58L481.65 655.68L481.8 655.74L481.9 655.74L482.15 655.76L482.4 655.77L482.65 655.77L482.8 655.77L482.9 655.73L483.15 655.61L483.4 655.49L483.65 655.35L483.8 655.27L483.9 655.23L484.15 655.13L484.4 655.01L484.65 654.87L484.8 654.78L484.9 654.73L485.15 654.6L485.4 654.45L485.65 654.28L485.8 654.17L485.9 654.07L486.15 653.83L486.4 653.57L486.65 653.31L486.8 653.16L486.9 653.12L487.15 653.03L487.4 652.97L487.65 652.94L487.8 652.94L487.9 652.91L488.15 652.85L488.4 652.86L488.65 652.92L488.8 652.98L488.9 653.02L489.15 653.15L489.4 653.33L489.65 653.54L489.8 653.67L489.9 653.74L490.15 653.93L490.4 654.12L490.65 654.31L490.8 654.42L490.9 654.51L491.15 654.72L491.4 654.92L491.65 655.09L491.8 655.18L491.9 655.29L492.15 655.56L492.4 655.8L492.65 656.02L492.8 656.14L492.9 656.12L493.15 656.06L493.4 655.98L493.65 655.89L493.8 655.83L493.9 655.84L494.15 655.86L494.4 655.87L494.65 655.87L494.8 655.87L494.9 655.8L495.15 655.62L495.4 655.44L495.65 655.25L495.8 655.14L495.9 655.19L496.15 655.3L496.4 655.41L496.65 655.52L496.8 655.58L496.9 655.65L497.15 655.81L497.4 655.97L497.65 656.13L497.8 656.23L497.9 656.15L498.15 655.94L498.4 655.74L498.65 655.53L498.8 655.41L498.9 655.4L499.15 655.39L499.4 655.38L499.65 655.37L499.8 655.36L499.9 655.43L500.15 655.59L500.4 655.76L500.65 655.92L500.8 656.02L500.9 656.09L501.15 656.27L501.4 656.45L501.65 656.63L501.8 656.74L501.9 656.73L502.15 656.7L502.4 656.67L502.65 656.64L502.8 656.63L502.9 656.56L503.15 656.39L503.4 656.22L503.8 655.94L504.8 655.86L505.8 655.92L506.8 655.53L507 655.58L507.25 655.64L507.5 655.7L507.75 655.76L507.8 655.77L508 655.75L508.25 655.72L508.5 655.69L508.75 655.66L508.8 655.65L509 655.57L509.25 655.47L509.5 655.38L509.75 655.28L509.8 655.26L510 655.31L510.25 655.38L510.5 655.44L510.75 655.5L510.8 655.52L511 655.48L511.25 655.42L511.5 655.37L511.75 655.32L511.8 655.3L512 655.15L512.25 654.95L512.5 654.76L512.75 654.56L512.8 654.51L513 654.42L513.25 654.3L513.5 654.17L513.75 654.03L513.8 654L514 654.12L514.25 654.25L514.5 654.37L514.75 654.46L514.8 654.48L515 654.49L515.25 654.47L515.5 654.41L515.75 654.27L515.8 654.24L516 653.81L516.25 653.18L516.5 652.42L516.75 651.5L516.8 651.29L517 650.47L517.25 649.25L517.5 647.78L517.75 646.04L517.8 645.66L518 644.08L518.25 641.86L518.5 639.37L518.75 636.65L518.8 636.08L519 633.66L519.25 630.55L519.5 627.42L519.75 624.4L519.8 623.82L520 621.68L520.25 619.35L520.5 617.54L520.75 616.39L520.8 616.25L521 616.19L521.25 616.82L521.5 618.2L521.75 620.23L521.8 620.7L522 622.45L522.25 624.97L522.5 627.73L522.75 630.59L522.8 631.17L523 633.63L523.25 636.61L523.5 639.42L523.75 641.99L523.8 642.47L524 644.31L524.25 646.35L524.5 648.11L524.75 649.61L524.8 649.88L525 650.82L525.25 651.8L525.5 652.59L525.75 653.22L525.8 653.33L526 653.7L526.25 654.07L526.5 654.36L526.75 654.59L526.8 654.62L527 654.72L527.25 654.81L527.5 654.87L527.75 654.91L527.8 654.92L528 654.99L528.25 655.06L528.5 655.13L528.75 655.19L528.8 655.21L529 655.24L529.25 655.27L529.5 655.31L529.75 655.34L529.8 655.34L530 655.42L530.25 655.52L530.5 655.62L530.75 655.71L530.8 655.73L531 655.71L531.25 655.68L531.5 655.66L531.75 655.63L531.8 655.62L532 655.69L532.25 655.77L532.5 655.85L532.75 655.93L532.8 655.94L533 655.84L533.25 655.71L533.5 655.58L533.75 655.44L533.8 655.42L534 655.45L534.25 655.5L534.5 655.54L534.75 655.59L534.8 655.6L535 655.68L535.8 656.02L536.8 655.85L537.8 655.77L538.8 655.58L539.8 655.79L540.8 655.82L541.8 655.59L542.8 655.97L543.8 656.55L544.8 655.57L545.8 655.73L546.8 655.36L547.8 656.14L548.8 655.56L549.8 655.4L550.8 655.59L551.8 656.01L552.8 656.24L553.8 655.56L554.8 656.1L555.8 656.16L556.8 655.56L557.8 656.46L558.8 656.48L559.8 655.75L560.8 656.09L561.8 656.14L562.8 655.9L563.8 655.86L564.8 655.13L565.8 655.61L566.8 656.02L567.7 656.29L567.8 656.32L567.95 656.28L568.2 656.22L568.45 656.16L568.7 656.1L568.8 656.07L568.95 656.05L569.2 656.02L569.45 655.99L569.7 655.96L569.8 655.95L569.95 655.99L570.2 656.07L570.45 656.14L570.7 656.21L570.8 656.24L570.95 656.1L571.2 655.86L571.45 655.63L571.7 655.4L571.8 655.3L571.95 655.44L572.2 655.67L572.45 655.9L572.7 656.13L572.8 656.22L572.95 656.15L573.2 656.04L573.45 655.92L573.7 655.8L573.8 655.75L573.95 655.7L574.2 655.62L574.45 655.53L574.7 655.44L574.8 655.4L574.95 655.44L575.2 655.5L575.45 655.56L575.7 655.61L575.8 655.63L575.95 655.54L576.2 655.39L576.45 655.23L576.7 655.06L576.8 654.98L576.95 654.93L577.2 654.83L577.45 654.7L577.7 654.55L577.8 654.47L577.95 654.46L578.2 654.39L578.45 654.28L578.7 654.12L578.8 654.04L578.95 653.79L579.2 653.33L579.45 652.8L579.7 652.2L579.8 651.95L579.95 651.63L580.2 651.07L580.45 650.46L580.7 649.82L580.8 649.56L580.95 649.01L581.2 648.09L581.45 647.21L581.7 646.4L581.8 646.1L581.95 645.75L582.2 645.29L582.45 644.97L582.7 644.83L582.8 644.82L582.95 644.91L583.2 645.21L583.45 645.65L583.7 646.22L583.8 646.48L583.95 647.02L584.2 647.96L584.45 648.94L584.7 649.93L584.8 650.32L584.95 650.68L585.2 651.26L585.45 651.8L585.7 652.28L585.8 652.46L585.95 652.77L586.2 653.23L586.45 653.63L586.7 653.97L586.8 654.09L586.95 654.28L587.2 654.56L587.45 654.8L587.7 654.99L587.8 655.06L587.95 655.14L588.2 655.27L588.45 655.37L588.7 655.45L588.8 655.48L588.95 655.53L589.2 655.6L589.45 655.66L589.7 655.71L589.8 655.73L589.95 655.71L590.2 655.67L590.45 655.64L590.7 655.6L590.8 655.58L590.95 655.59L591.2 655.6L591.45 655.61L591.7 655.63L591.8 655.63L591.95 655.64L592.2 655.66L592.45 655.68L592.7 655.69L592.8 655.7L592.95 655.68L593.2 655.64L593.45 655.61L593.7 655.57L593.8 655.55L593.95 655.51L594.2 655.44L594.45 655.37L594.7 655.3L594.8 655.27L594.95 655.24L595.2 655.18L595.45 655.12L595.7 655.06L595.8 655.04L595.95 654.93L596.2 654.74L596.45 654.54L596.7 654.35L596.8 654.27L596.95 654.31L597.2 654.36L597.45 654.42L597.7 654.47L597.8 654.49L598.2 654.62L598.45 654.7L598.7 654.78L598.8 654.81L598.95 654.74L599.2 654.63L599.45 654.51L599.7 654.39L599.8 654.34L599.95 654.34L600.2 654.33L600.45 654.32L600.7 654.31L600.8 654.31L600.95 654.18L601.2 653.97L601.45 653.76L601.7 653.54L601.8 653.45L601.95 653.52L602.2 653.63L602.45 653.74L602.7 653.84L602.8 653.87L602.95 653.77L603.2 653.6L603.45 653.41L603.7 653.21L603.8 653.13L603.95 653.01L604.2 652.81L604.45 652.59L604.7 652.34L604.8 652.24L604.95 652.11L605.2 651.87L605.45 651.59L605.7 651.25L605.8 651.09L605.95 650.68L606.2 649.91L606.45 649.01L606.7 647.96L606.8 647.49L606.95 646.93L607.2 645.79L607.45 644.3L607.7 642.4L607.8 641.49L607.95 639.89L608.2 636.7L608.45 632.77L608.7 627.99L608.8 625.82L608.95 622.39L609.2 615.83L609.45 608.15L609.7 599.34L609.8 595.5L609.95 589.13L610.2 577.7L610.45 565.39L610.7 552.43L610.8 547.13L610.95 539.17L611.2 526L611.45 513.33L611.7 501.72L611.8 497.5L611.95 491.87L612.2 484.34L612.45 479.61L612.7 478.03L612.8 478.33L612.95 479.63L613.2 484.31L613.45 491.77L613.7 501.49L613.8 505.87L613.95 513.1L614.2 525.92L614.45 539.25L614.7 552.62L614.8 557.89L614.95 565.39L615.2 577.34L615.45 588.41L615.7 598.44L615.8 602.15L615.95 607.48L616.2 615.46L616.45 622.33L616.7 628.15L616.8 630.2L616.95 632.93L617.2 636.8L617.45 639.93L617.7 642.44L617.8 643.29L617.95 644.56L618.2 646.36L618.45 647.81L618.7 649L618.8 649.41L618.95 649.74L619.2 650.16L619.45 650.47L619.7 650.67L619.8 650.74L619.95 651.1L620.2 651.66L620.45 652.18L620.7 652.66L620.8 652.85L620.95 652.9L621.2 652.98L621.45 653.04L621.7 653.08L621.8 653.09L621.95 653.19L622.2 653.34L622.45 653.48L622.7 653.61L622.8 653.66L622.95 653.58L623.2 653.44L623.45 653.3L623.7 653.14L623.8 653.08L623.95 653.16L624.2 653.29L624.45 653.41L624.7 653.53L624.8 653.57L624.95 653.66L625.2 653.8L625.45 653.93L625.7 654.06L625.8 654.12L625.95 654.26L626.2 654.5L626.45 654.73L626.6 654.87L626.7 654.97L626.8 655.06L626.85 655.08L626.95 655.12L627.1 655.17L627.2 655.21L627.35 655.27L627.6 655.36L627.8 655.43L627.85 655.44L628.1 655.5L628.35 655.55L628.6 655.61L628.8 655.65L628.85 655.66L629.1 655.71L629.35 655.76L629.6 655.81L629.8 655.85L629.85 655.83L630.1 655.74L630.35 655.64L630.6 655.54L630.8 655.45L630.85 655.44L631.1 655.36L631.35 655.28L631.6 655.2L631.8 655.14L631.85 655.13L632.1 655.08L632.35 655.02L632.6 654.97L632.8 654.93L632.85 654.96L633.1 655.1L633.35 655.24L633.6 655.38L633.8 655.49L633.85 655.47L634.1 655.41L634.35 655.34L634.6 655.26L634.8 655.2L634.85 655.23L635.1 655.38L635.35 655.52L635.6 655.65L635.8 655.74L635.85 655.72L636.1 655.58L636.35 655.43L636.6 655.24L636.8 655.07L636.85 655.02L637.1 654.77L637.35 654.46L637.6 654.11L637.8 653.79L637.85 653.76L638.1 653.58L638.35 653.33L638.6 653.03L638.8 652.74L638.85 652.64L639.1 652.12L639.35 651.56L639.6 650.98L639.8 650.5L639.85 650.31L640.1 649.36L640.35 648.46L640.6 647.61L640.8 647L640.85 646.87L641.1 646.3L641.35 645.87L641.6 645.6L641.8 645.5L641.85 645.52L642.1 645.72L642.35 646.06L642.6 646.52L642.8 646.96L642.85 647.12L643.1 647.96L643.35 648.83L643.6 649.71L643.8 650.41L643.85 650.53L644.1 651.13L644.35 651.68L644.6 652.18L644.8 652.54L644.85 652.65L645.1 653.15L645.35 653.6L645.6 653.99L645.8 654.26L645.85 654.34L646.1 654.72L646.35 655.05L646.6 655.35L646.8 655.56L646.85 655.59L647.1 655.71L647.35 655.81L647.6 655.89L647.8 655.94L647.85 655.96L648.1 656.05L648.35 656.13L648.6 656.2L648.8 656.25L648.85 656.23L649.1 656.14L649.35 656.03L649.6 655.93L649.8 655.85L649.85 655.82L650.1 655.7L650.35 655.57L650.6 655.45L650.8 655.35L650.85 655.35L651.1 655.36L651.35 655.37L651.6 655.38L651.8 655.39L651.85 655.4L652.1 655.42L652.35 655.44L652.6 655.47L652.8 655.48L652.85 655.5L653.1 655.58L653.35 655.66L653.6 655.73L653.8 655.79L653.85 655.78L654.1 655.71L654.35 655.64L654.5 655.6L654.6 655.57L654.75 655.53L654.8 655.51L654.85 655.54L655 655.6L655.1 655.64L655.25 655.7L655.35 655.75L655.5 655.81L655.6 655.85L655.75 655.91L655.8 655.93L655.85 655.95L656 656L656.1 656.03L656.25 656.07L656.35 656.1L656.5 656.15L656.6 656.18L656.75 656.22L656.8 656.24L657 656.24L657.25 656.24L657.5 656.24L657.75 656.24L657.8 656.24L658 656.28L658.25 656.34L658.5 656.4L658.75 656.46L658.8 656.47L659 656.52L659.25 656.59L659.5 656.66L659.75 656.73L659.8 656.74L660 656.7L660.25 656.65L660.5 656.59L660.75 656.54L660.8 656.53L661 656.53L661.25 656.52L661.5 656.52L661.75 656.51L661.8 656.51L662 656.45L662.25 656.37L662.5 656.29L662.75 656.21L662.8 656.2L663 656.29L663.25 656.4L663.5 656.5L663.75 656.61L663.8 656.63L664 656.59L664.25 656.53L664.5 656.46L664.75 656.39L664.8 656.38L665 656.32L665.25 656.25L665.5 656.17L665.75 656.08L665.8 656.06L666 655.97L666.25 655.85L666.5 655.72L666.75 655.58L666.8 655.55L667 655.6L667.25 655.65L667.5 655.69L667.75 655.73L667.8 655.73L668 655.83L668.25 655.94L668.5 656.06L668.75 656.19L668.8 656.22L669 656.03L669.25 655.8L669.5 655.59L669.75 655.41L669.8 655.38L670 655.31L670.25 655.25L670.5 655.21L670.75 655.2L670.8 655.2L671 655.22L671.25 655.26L671.5 655.32L671.75 655.37L671.8 655.39L672 655.38L672.25 655.37L672.5 655.36L672.75 655.34L672.8 655.33L673 655.43L673.25 655.54L673.5 655.65L673.75 655.74L673.8 655.76L674 655.7L674.25 655.61L674.5 655.52L674.75 655.41L674.8 655.39L675 655.39L675.25 655.38L675.5 655.36L675.75 655.34L675.8 655.34L676 655.43L676.25 655.54L676.5 655.64L676.75 655.75L676.8 655.77L677 655.82L677.25 655.87L677.5 655.93L677.75 655.98L677.8 655.99L678 655.99L678.25 655.99L678.5 655.99L678.75 655.98L678.8 655.98L679 655.95L679.25 655.91L679.5 655.88L679.75 655.84L679.8 655.83L680 655.93L680.25 656.06L680.5 656.18L680.75 656.31L680.8 656.33L681 656.26L681.25 656.16L681.5 656.07L681.75 655.97L681.8 655.95L682 656.07L682.25 656.22L682.3 656.24L682.5 656.36L682.55 656.39L682.75 656.51L682.8 656.54L683 656.45L683.05 656.43L683.25 656.34L683.3 656.32L683.5 656.23L683.55 656.21L683.75 656.12L683.8 656.1L684 656.11L684.05 656.12L684.25 656.13L684.3 656.13L684.5 656.15L684.55 656.15L684.75 656.17L684.8 656.17L685 656.17L685.05 656.17L685.25 656.18L685.3 656.18L685.5 656.18L685.55 656.18L685.8 656.19L686.05 656.05L686.3 655.91L686.55 655.78L686.8 655.64L687.05 655.42L687.3 655.2L687.55 654.97L687.8 654.75L688.05 654.88L688.3 655L688.55 655.13L688.8 655.25L689.05 655.39L689.3 655.53L689.55 655.67L689.8 655.8L690.05 655.69L690.3 655.59L690.55 655.47L690.8 655.35L691.05 655.14L691.3 654.91L691.55 654.66L691.8 654.39L692.05 654.36L692.3 654.28L692.55 654.16L692.8 653.98L693.05 653.56L693.3 653.05L693.55 652.45L693.8 651.76L694.05 651.03L694.3 650.18L694.55 649.22L694.8 648.15L695.05 646.91L695.3 645.59L695.55 644.2L695.8 642.77L696.05 641.35L696.3 639.97L696.55 638.67L696.8 637.51L697.05 636.56L697.3 635.85L697.55 635.43L697.8 635.31L698.05 635.65L698.3 636.3L698.55 637.23L698.8 638.4L699.05 639.55L699.3 640.83L699.55 642.19L699.8 643.59L700.05 644.99L700.3 646.35L700.55 647.63L700.8 648.83L701.05 649.81L701.3 650.67L701.55 651.41L701.8 652.04L702.05 652.8L702.3 653.46L702.55 654.03L702.8 654.51L703.05 654.72L703.3 654.86L703.55 654.95L703.8 655L704.05 655.19L704.3 655.35L704.55 655.5L704.8 655.62L705.05 655.43L705.3 655.23L705.55 655.02L705.8 654.8L706.05 655.04L706.3 655.28L706.55 655.51L706.8 655.74L707.05 655.76L707.3 655.78L707.55 655.79L707.8 655.8L708.05 655.8L708.15 655.79L708.3 655.79L708.4 655.79L708.55 655.79L708.65 655.78L708.8 655.78L708.9 655.84L709.05 655.92L709.15 655.98L709.3 656.07L709.4 656.12L709.55 656.21L709.65 656.27L709.8 656.35L709.9 656.32L710.05 656.26L710.15 656.22L710.3 656.17L710.4 656.13L710.55 656.08L710.65 656.04L710.8 655.98L710.9 655.96L711.05 655.93L711.15 655.91L711.3 655.88L711.4 655.86L711.55 655.82L711.65 655.8L711.8 655.77L711.9 655.78L712.05 655.81L712.15 655.82L712.3 655.84L712.4 655.85L712.55 655.87L712.65 655.89L712.8 655.91L712.9 656.04L713.05 656.24L713.15 656.37L713.3 656.57L713.4 656.7L713.65 657.03L713.8 657.23L713.9 657.22L714.15 657.19L714.4 657.16L714.65 657.13L714.8 657.11L714.9 657.09L715.15 657.05L715.4 657.02L715.65 656.98L715.8 656.95L715.9 656.88L716.15 656.7L716.4 656.52L716.65 656.34L716.8 656.23L716.9 656.28L717.15 656.42L717.4 656.55L717.65 656.68L717.8 656.76L717.9 656.72L718.15 656.64L718.4 656.55L718.65 656.45L718.8 656.39L718.9 656.35L719.15 656.23L719.4 656.1L719.65 655.95L719.8 655.86L719.9 655.82L720.15 655.73L720.4 655.61L720.65 655.48L720.8 655.39L720.9 655.25L721.15 654.89L721.4 654.51L721.65 654.11L721.8 653.86L721.9 653.8L722.15 653.64L722.4 653.47L722.65 653.3L722.8 653.19L722.9 653L723.15 652.52L723.4 652.06L723.65 651.62L723.8 651.36L723.9 651.34L724.15 651.32L724.4 651.34L724.65 651.41L724.8 651.48L724.9 651.44L725.15 651.36L725.4 651.35L725.65 651.38L725.8 651.43L725.9 651.51L726.15 651.72L726.4 651.97L726.65 652.23L726.8 652.4L726.9 652.56L727.15 652.96L727.4 653.36L727.65 653.75L727.8 653.97L727.9 654.09L728.15 654.38L728.4 654.64L728.65 654.89L728.8 655.03L728.9 655.07L729.15 655.15L729.4 655.21L729.65 655.25L729.8 655.26L729.9 655.32L730.15 655.44L730.4 655.56L730.65 655.65L730.8 655.71L730.9 655.7L731.15 655.69L731.4 655.67L731.65 655.64L731.8 655.62L731.9 655.58L732.15 655.47L732.4 655.35L732.65 655.24L732.8 655.17L732.9 655.16L733.15 655.16L733.4 655.15L733.65 655.14L733.8 655.13L733.9 655.23L734.15 655.48L734.4 655.72L734.65 655.97L734.8 656.12L734.9 656.12L735.15 656.14L735.4 656.16L735.65 656.17L735.8 656.18L735.9 656.17L736.05 656.16L736.15 656.15L736.3 656.14L736.4 656.13L736.55 656.11L736.65 656.1L736.8 656.09L736.9 656.07L737.05 656.03L737.15 656.01L737.3 655.97L737.4 655.95L737.55 655.91L737.65 655.89L737.8 655.85L737.9 655.83L738.05 655.79L738.15 655.76L738.3 655.72L738.4 655.69L738.55 655.65L738.65 655.63L738.8 655.59L738.9 655.59L739.05 655.6L739.15 655.61L739.3 655.62L739.4 655.62L739.55 655.63L739.65 655.63L739.8 655.64L739.9 655.62L740.05 655.58L740.15 655.55L740.3 655.52L740.4 655.49L740.55 655.45L740.65 655.43L740.8 655.39L740.9 655.46L741.05 655.58L741.15 655.65L741.3 655.77L741.4 655.84L741.55 655.96L741.65 656.03L741.8 656.14L742.05 656.09L742.3 656.03L742.55 655.98L742.8 655.92L743.05 655.89L743.3 655.86L743.55 655.83L743.8 655.8L744.05 655.81L744.3 655.82L744.55 655.83L744.8 655.82L745.05 655.87L745.3 655.9L745.55 655.91L745.8 655.9L746.05 655.41L746.3 654.88L746.55 654.3L746.8 653.67L747.05 653.25L747.3 652.76L747.55 652.19L747.8 651.54L748.05 651.07L748.3 650.52L748.55 649.88L748.8 649.15L749.05 648.05L749.3 646.88L749.55 645.67L749.8 644.44L750.05 643.49L750.3 642.57L750.55 641.73L750.8 641L751.05 640.03L751.3 639.25L751.55 638.7L751.8 638.39L752.05 638.57L752.3 638.99L752.55 639.63L752.8 640.46L753.05 641.5L753.3 642.66L753.55 643.88L753.8 645.15L754.05 646.33L754.3 647.49L754.55 648.61L754.8 649.66L755.05 650.62L755.3 651.49L755.55 652.28L755.8 652.97L756.05 653.59L756.3 654.12L756.55 654.58L756.8 654.97L757.05 655.18L757.3 655.33L757.55 655.44L757.8 655.51L758.05 655.54L758.3 655.54L758.55 655.52L758.8 655.48L759.05 655.5L759.3 655.52L759.55 655.53L759.8 655.53L760.05 655.7L760.3 655.86L760.55 656.02L760.8 656.17L761.05 656.19L761.3 656.2L761.55 656.21L761.8 656.22L762.05 656.18L762.2 656.16L762.3 656.14L762.45 656.12L762.55 656.1L762.7 656.08L762.8 656.06L762.95 656.04L763.05 656.03L763.2 656.01L763.3 655.99L763.45 655.97L763.55 655.96L763.7 655.94L763.8 655.92L763.95 655.89L764.05 655.87L764.2 655.83L764.3 655.81L764.45 655.78L764.55 655.75L764.7 655.71L764.8 655.69L764.95 655.66L765.05 655.64L765.2 655.61L765.3 655.59L765.45 655.56L765.55 655.54L765.7 655.5L765.8 655.48L765.95 655.37L766.05 655.3L766.2 655.18L766.3 655.11L766.45 654.99L766.55 654.92L766.7 654.8L766.8 654.72L766.95 654.66L767.05 654.61L767.2 654.55L767.3 654.5L767.45 654.43L767.55 654.39L767.7 654.31L767.8 654.26L767.95 654.21L768.2 654.12L768.45 654.02L768.7 653.91L768.8 653.87L768.95 653.91L769.2 653.97L769.45 654.02L769.7 654.05L769.8 654.05L769.95 653.83L770.2 653.44L770.45 653.01L770.7 652.53L770.8 652.33L770.95 652.15L771.2 651.8L771.45 651.35L771.7 650.78L771.8 650.51L771.95 649.83L772.2 648.55L772.45 647.03L772.7 645.25L772.8 644.44L772.95 643.37L773.2 641.28L773.45 638.74L773.7 635.71L773.8 634.35L773.95 631.92L774.2 627.39L774.45 622.24L774.7 616.44L774.8 613.95L774.95 610.16L775.2 603.38L775.45 596.03L775.7 588.21L775.8 584.98L775.95 580.06L776.2 571.73L776.45 563.4L776.7 555.3L776.8 552.19L776.95 547.7L777.2 540.88L777.45 535.15L777.7 530.82L777.8 529.54L777.95 528.12L778.2 527.22L778.45 528.19L778.7 530.98L778.8 532.57L778.95 535.41L779.2 541.23L779.45 548.14L779.7 555.85L779.8 559.09L779.95 564.03L780.2 572.43L780.45 580.83L780.7 589.04L780.8 592.23L780.95 596.87L781.2 604.22L781.45 611.01L781.7 617.18L781.8 619.47L781.95 622.91L782.2 628.12L782.45 632.7L782.7 636.69L782.8 638.13L782.95 639.86L783.2 642.36L783.45 644.42L783.7 646.09L783.8 646.67L783.95 647.55L784.2 648.79L784.45 649.82L784.7 650.65L784.8 650.94L784.95 651.38L785.2 652.01L785.45 652.54L785.7 653L785.8 653.17L785.95 653.29L786.2 653.47L786.45 653.6L786.7 653.7L786.8 653.74L786.95 653.8L787.2 653.9L787.4 653.96L787.45 653.98L787.65 654.03L787.7 654.05L787.8 654.07L787.9 654.08L787.95 654.08L788.15 654.09L788.2 654.09L788.4 654.1L788.45 654.1L788.65 654.1L788.7 654.1L788.8 654.09L788.9 654.16L788.95 654.2L789.15 654.34L789.2 654.37L789.4 654.51L789.45 654.54L789.65 654.67L789.7 654.7L789.8 654.76L789.9 654.72L789.95 654.7L790.15 654.6L790.2 654.58L790.4 654.48L790.45 654.46L790.65 654.36L790.7 654.33L790.8 654.28L790.9 654.36L790.95 654.4L791.15 654.55L791.2 654.58L791.4 654.73L791.45 654.77L791.65 654.91L791.7 654.95L791.8 655.02L791.9 655.1L791.95 655.14L792.15 655.29L792.2 655.33L792.4 655.48L792.45 655.52L792.65 655.66L792.7 655.7L792.8 655.77L792.9 655.7L792.95 655.66L793.15 655.52L793.2 655.48L793.4 655.33L793.45 655.29L793.65 655.14L793.7 655.1L793.8 655.02L793.9 655.04L793.95 655.06L794.15 655.11L794.2 655.12L794.4 655.17L794.65 655.22L794.8 655.26L794.9 655.31L795.15 655.44L795.4 655.56L795.65 655.68L795.8 655.75L795.9 655.68L796.15 655.51L796.4 655.32L796.65 655.12L796.8 655L796.9 654.98L797.15 654.92L797.4 654.83L797.65 654.71L797.8 654.63L797.9 654.56L798.15 654.36L798.4 654.11L798.65 653.8L798.8 653.58L798.9 653.34L799.15 652.68L799.4 651.93L799.65 651.08L799.8 650.52L799.9 650.23L800.15 649.44L800.4 648.55L800.65 647.55L800.8 646.9L800.9 646.38L801.15 645.02L801.4 643.59L801.65 642.12L801.8 641.22L801.9 640.66L802.15 639.27L802.4 637.93L802.65 636.68L802.8 636L802.9 635.64L803.15 634.85L803.4 634.3L803.65 634.01L803.8 633.97L803.9 633.97L804.15 634.17L804.4 634.66L804.65 635.41L804.8 635.97L804.9 636.35L805.15 637.42L805.4 638.64L805.65 639.94L805.8 640.76L805.9 641.31L806.15 642.69L806.4 644.05L806.65 645.37L806.8 646.13L806.9 646.69L807.15 648.02L807.4 649.25L807.65 650.39L807.8 651.02L807.9 651.37L808.15 652.19L808.4 652.91L808.65 653.53L808.8 653.86L808.9 654.04L809.15 654.44L809.4 654.76L809.65 655.03L809.8 655.16L809.9 655.23L810.15 655.39L810.4 655.5L810.65 655.59L810.8 655.63L810.9 655.63L811.15 655.62L811.4 655.59L811.65 655.55L811.8 655.53L811.9 655.54L812.15 655.56L812.4 655.57L812.65 655.59L812.8 655.59L812.9 655.58L813.1 655.57L813.15 655.56L813.35 655.54L813.4 655.54L813.6 655.52L813.65 655.51L813.8 655.5L813.85 655.53L813.9 655.56L814.1 655.69L814.15 655.73L814.35 655.85L814.4 655.89L814.6 656.01L814.65 656.05L814.8 656.14L814.85 656.17L814.9 656.2L815.1 656.32L815.15 656.34L815.35 656.46L815.4 656.49L815.6 656.6L815.65 656.63L815.8 656.72L815.85 656.72L815.9 656.73L816.1 656.77L816.15 656.78L816.35 656.81L816.4 656.82L816.6 656.85L816.65 656.86L816.8 656.88L816.85 656.86L816.9 656.83L817.1 656.74L817.15 656.71L817.35 656.61L817.4 656.59L817.6 656.49L817.65 656.47L817.8 656.39L817.85 656.37L817.9 656.34L818.1 656.25L818.15 656.22L818.35 656.12L818.4 656.1L818.6 656L818.65 655.98L818.8 655.9L818.85 655.9L818.9 655.9L819.1 655.9L819.15 655.89L819.35 655.89L819.4 655.89L819.6 655.88L819.65 655.88L819.8 655.87L819.85 655.87L819.9 655.87L820.1 655.86L820.15 655.86L820.35 655.85L820.4 655.85L820.6 655.84L820.8 655.83L820.85 655.83L821.1 655.87L821.35 655.91L821.6 655.93L821.8 655.95L821.85 655.96L822.1 655.98L822.35 655.99L822.6 655.98L822.8 655.96L822.85 655.9L823.1 655.57L823.35 655.2L823.6 654.8L823.8 654.44L823.85 654.42L824.1 654.31L824.35 654.13L824.6 653.87L824.8 653.6L824.85 653.41L825.1 652.39L825.35 651.26L825.6 650.02L825.8 648.94L825.85 648.73L826.1 647.65L826.35 646.46L826.6 645.16L826.8 644.05L826.85 643.77L827.1 642.31L827.35 640.81L827.6 639.29L827.8 638.09L827.85 637.79L828.1 636.34L828.35 635.01L828.6 633.82L828.8 633.03L828.85 632.84L829.1 632.09L829.35 631.63L829.6 631.49L829.8 631.61L829.85 631.7L830.1 632.29L830.35 633.18L830.6 634.33L830.8 635.39L830.85 635.6L831.1 636.73L831.35 637.97L831.6 639.26L831.8 640.32L831.85 640.66L832.1 642.39L832.35 644.07L832.6 645.67L832.8 646.89L832.85 647.13L833.1 648.27L833.35 649.29L833.6 650.2L833.8 650.84L833.85 651.02L834.1 651.85L834.35 652.57L834.6 653.19L834.8 653.63L834.85 653.7L835.1 654L835.35 654.24L835.6 654.42L835.8 654.53L835.85 654.62L836.1 655.08L836.25 655.34L836.35 655.51L836.5 655.75L836.6 655.91L836.75 656.14L836.8 656.21L836.85 656.19L837 656.13L837.1 656.08L837.25 656.01L837.35 655.96L837.5 655.88L837.6 655.82L837.75 655.74L837.8 655.71L837.85 655.71L838 655.7L838.1 655.69L838.25 655.68L838.35 655.67L838.5 655.65L838.6 655.64L838.75 655.62L838.8 655.61L838.85 655.66L839 655.81L839.1 655.9L839.25 656.05L839.35 656.15L839.5 656.29L839.6 656.38L839.75 656.53L839.8 656.57L839.85 656.54L840 656.44L840.1 656.37L840.25 656.27L840.35 656.2L840.5 656.1L840.6 656.03L840.75 655.92L840.8 655.89L840.85 655.9L841 655.91L841.1 655.93L841.25 655.94L841.35 655.96L841.5 655.97L841.6 655.98L841.75 656L841.8 656.01L841.85 656L842 655.97L842.1 655.96L842.25 655.93L842.35 655.92L842.5 655.89L842.6 655.88L842.75 655.85L842.8 655.84L842.85 655.83L843 655.8L843.1 655.78L843.25 655.74L843.35 655.72L843.5 655.69L843.6 655.67L843.75 655.63L843.8 655.62L843.85 655.61L844 655.57L844.1 655.54L844.25 655.51L844.35 655.48L844.5 655.44L844.6 655.41L844.75 655.37L844.8 655.36L844.85 655.37L845 655.41L845.1 655.44L845.25 655.48L845.35 655.51L845.5 655.55L845.6 655.58L845.75 655.62L845.8 655.63L845.85 655.65L846 655.72L846.1 655.77L846.25 655.84L846.5 655.94L846.75 656.04L846.8 656.06L847 655.99L847.25 655.88L847.5 655.76L847.75 655.63L847.8 655.6L848 655.56L848.25 655.49L848.5 655.4L848.75 655.28L848.8 655.25L849 655.22L849.25 655.16L849.5 655.06L849.75 654.93L849.8 654.9L850 654.53L850.25 654.04L850.5 653.51L850.75 652.95L850.8 652.83L851 652.66L851.25 652.41L851.5 652.15L851.75 651.88L851.8 651.82L852 651.34L852.25 650.73L852.5 650.15L852.75 649.59L852.8 649.48L853 649.04L853.25 648.55L853.5 648.12L853.75 647.76L853.8 647.7L854 647.61L854.25 647.57L854.5 647.63L854.75 647.78L854.8 647.82L855 647.95L855.25 648.19L855.5 648.49L855.75 648.84L855.8 648.92L856 649.27L856.25 649.73L856.5 650.2L856.75 650.68L856.8 650.78L857 651.29L857.25 651.91L857.5 652.51L857.75 653.08L857.8 653.19L858 653.61L858.25 654.1L858.5 654.55L858.75 654.97L858.8 655.05L859 655.27L859.05 655.32L859.25 655.5L859.3 655.55L859.5 655.71L859.55 655.75L859.75 655.89L859.8 655.92L860 655.83L860.05 655.8L860.25 655.69L860.3 655.66L860.5 655.53L860.55 655.49L860.75 655.35L860.8 655.31L861 655.22L861.05 655.2L861.25 655.1L861.3 655.07L861.5 654.96L861.55 654.93L861.75 654.82L861.8 654.79L862 655.14L862.05 655.22L862.25 655.57L862.3 655.65L862.5 655.99L862.55 656.08L862.75 656.41L862.8 656.5L863 656.37L863.05 656.34L863.25 656.21L863.3 656.18L863.5 656.05L863.55 656.02L863.75 655.89L863.8 655.85L864 655.86L864.05 655.86L864.25 655.86L864.3 655.87L864.5 655.87L864.55 655.87L864.75 655.87L864.8 655.87L865 655.94L865.05 655.96L865.25 656.03L865.3 656.05L865.5 656.12L865.55 656.14L865.75 656.21L865.8 656.23L866 656.19L866.05 656.18L866.25 656.15L866.3 656.14L866.5 656.1L866.55 656.09L866.75 656.06L866.8 656.05L867 656.16L867.05 656.19L867.25 656.29L867.3 656.32L867.5 656.43L867.55 656.46L867.75 656.57L867.8 656.59L868 656.45L868.05 656.41L868.25 656.27L868.3 656.23L868.5 656.09L868.55 656.05L868.75 655.91L868.8 655.87L869 655.95L869.05 655.98L869.25 656.06L869.3 656.08L869.5 656.16L869.55 656.18L869.75 656.26L869.8 656.28L870 656.21L870.05 656.2L870.25 656.13L870.3 656.11L870.5 656.04L870.55 656.02L870.75 655.95L870.8 655.93L871 656.1L871.05 656.15L871.25 656.32L871.3 656.37L871.5 656.54L871.55 656.58L871.75 656.74L871.8 656.79L872 656.65L872.05 656.62L872.25 656.48L872.3 656.44L872.55 656.26L872.8 656.07L873.05 656.12L873.3 656.16L873.55 656.19L873.8 656.22L874.05 656.07L874.3 655.92L874.55 655.76L874.8 655.58L875.05 655.1L875.3 654.6L875.55 654.1L875.8 653.59L876.05 653.42L876.3 653.25L876.55 653.08L876.8 652.9L877.05 652.8L877.3 652.7L877.55 652.61L877.8 652.54L878.05 652.36L878.3 652.21L878.55 652.08L878.8 651.97L879.05 651.93L879.3 651.91L879.55 651.93L879.8 651.98L880.05 652.17L880.3 652.39L880.55 652.63L880.8 652.9L881.05 653.14L881.3 653.4L881.55 653.66L881.8 653.93L882.05 654.04L882.3 654.15L882.55 654.25L882.8 654.35L883.05 654.57L883.3 654.78L883.55 654.98L883.8 655.17L884.05 655.36L884.3 655.55L884.55 655.72L884.8 655.88L885.05 655.94L885.3 655.98L885.55 656.02L885.8 656.04L886.05 656.15L886.2 656.22L886.3 656.26L886.45 656.32L886.55 656.35L886.7 656.41L886.8 656.44L886.95 656.47L887.05 656.48L887.2 656.51L887.3 656.52L887.45 656.54L887.55 656.55L887.7 656.57L887.8 656.58L887.95 656.77L888.05 656.89L888.2 657.08L888.3 657.2L888.45 657.39L888.55 657.51L888.7 657.69L888.8 657.81L888.95 657.69L889.05 657.6L889.2 657.47L889.3 657.38L889.45 657.25L889.55 657.17L889.7 657.04L889.8 656.95L889.95 656.91L890.05 656.88L890.2 656.84L890.3 656.81L890.45 656.77L890.55 656.74L890.7 656.7L890.8 656.67L890.95 656.62L891.05 656.59L891.2 656.54L891.3 656.5L891.45 656.45L891.55 656.42L891.7 656.37L891.8 656.34L891.95 656.34L892.05 656.33L892.2 656.33L892.3 656.33L892.45 656.33L892.55 656.33L892.7 656.32L892.8 656.32L892.95 656.31L893.05 656.31L893.2 656.3L893.3 656.29L893.45 656.28L893.55 656.27L893.7 656.26L893.8 656.26L893.95 656.2L894.05 656.16L894.2 656.09L894.3 656.05L894.45 655.99L894.55 655.95L894.7 655.89L894.8 655.85L894.95 655.92L895.05 655.97L895.2 656.05L895.3 656.1L895.45 656.17L895.55 656.22L895.7 656.29L895.8 656.34L895.95 656.41L896.05 656.46L896.2 656.53L896.3 656.57L896.45 656.63L896.55 656.67L896.7 656.73L896.8 656.77L896.95 656.71L897.05 656.66L897.2 656.6L897.3 656.55L897.45 656.47L897.55 656.41L897.7 656.32L897.8 656.25L897.95 656.11L898.05 656.02L898.2 655.87L898.3 655.76L898.45 655.59L898.55 655.47L898.7 655.27L898.8 655.13L898.95 654.83L899.05 654.62L899.2 654.3L899.3 654.07L899.45 653.72L899.55 653.47L899.7 653.09L899.8 652.83L899.95 652.46L900.2 651.82L900.45 651.14L900.7 650.42L900.8 650.12L900.95 649.85L901.2 649.37L901.45 648.88L901.7 648.4L901.8 648.21L901.95 647.73L902.2 646.95L902.45 646.22L902.7 645.57L902.8 645.32L902.95 645.16L903.2 644.96L903.45 644.88L903.7 644.93L903.8 644.98L903.95 645.14L904.2 645.49L904.45 645.95L904.7 646.52L904.8 646.77L904.95 647.17L905.2 647.88L905.45 648.64L905.7 649.44L905.8 649.76L905.95 650.15L906.2 650.81L906.45 651.45L906.7 652.07L906.8 652.31L906.95 652.61L907.2 653.08L907.45 653.52L907.7 653.91L907.8 654.05L907.95 654.34L908.2 654.78L908.45 655.18L908.7 655.54L908.8 655.67L908.95 655.64L909.2 655.57L909.45 655.47L909.7 655.33L909.8 655.27L909.95 655.41L910.2 655.61L910.45 655.8L910.7 655.97L910.8 656.03L910.95 656.12L911.2 656.24L911.45 656.36L911.7 656.48L911.8 656.52L911.95 656.52L912.2 656.53L912.45 656.53L912.7 656.52L912.8 656.52L912.95 656.43L913.2 656.28L913.45 656.13L913.7 655.98L913.8 655.92L913.95 655.91L914.2 655.9L914.45 655.88L914.7 655.87L914.8 655.86L914.95 655.95L915.2 656.1L915.45 656.25L915.7 656.39L915.8 656.45L915.95 656.41L916.2 656.34L916.45 656.27L916.7 656.2L916.8 656.17L916.95 656.18L917.2 656.19L917.45 656.19L917.7 656.2L917.8 656.2L917.95 656.21L918.2 656.22L918.45 656.22L918.7 656.22L918.8 656.23L918.95 656.23L919.2 656.24L919.45 656.25L919.7 656.25L919.8 656.25L919.95 656.18L920.2 656.05L920.45 655.92L920.7 655.79L920.8 655.73L920.95 655.69L921.2 655.61L921.45 655.52L921.7 655.41L921.8 655.37L921.95 655.41L922.2 655.48L922.45 655.53L922.7 655.56L922.8 655.57L922.95 655.35L923.2 654.97L923.45 654.57L923.7 654.14L923.8 653.97L923.95 653.77L924.2 653.43L924.45 653.08L924.7 652.71L924.8 652.56L924.95 652.37L925.2 652.05L925.45 651.73L925.7 651.41L925.8 651.29L925.95 651.31L926.2 651.36L926.45 651.44L926.7 651.55L926.8 651.6L926.95 651.45L927.2 651.22L927.45 651.05L927.7 650.93L927.8 650.9L927.95 650.93L928.2 651.02L928.45 651.17L928.7 651.35L928.8 651.44L928.95 651.65L929.2 652.03L929.45 652.43L929.7 652.85L929.8 653.02L929.95 653.19L930.2 653.47L930.45 653.75L930.7 654.02L930.8 654.13L930.95 654.32L931.2 654.62L931.45 654.92L931.7 655.19L931.8 655.3L931.95 655.35L932.2 655.41L932.45 655.45L932.7 655.48L932.8 655.48L932.95 655.5L933.2 655.51L933.45 655.5L933.7 655.48L933.8 655.46L933.95 655.59L934.2 655.79L934.45 655.99L934.7 656.17L934.8 656.24L934.95 656.26L935.2 656.29L935.45 656.31L935.7 656.32L935.8 656.32L935.95 656.3L936.2 656.26L936.45 656.21L936.7 656.16L936.8 656.14L936.95 656.21L937.2 656.33L937.45 656.45L937.7 656.56L937.8 656.61L937.95 656.56L938.2 656.47L938.45 656.39L938.7 656.3L938.8 656.27L938.95 656.19L939.2 656.05L939.45 655.92L939.7 655.78L939.8 655.73L939.95 655.83L940.2 656.01L940.45 656.18L940.7 656.35L940.8 656.42L940.95 656.43L941.2 656.44L941.45 656.46L941.7 656.47L941.8 656.47L941.95 656.48L942.2 656.49L942.45 656.5L942.7 656.51L942.8 656.51L942.95 656.59L943.2 656.71L943.45 656.83L943.7 656.96L943.8 657L943.95 656.85L944.2 656.59L944.45 656.33L944.7 656.07L944.8 655.97L944.95 656.1L945.2 656.31L945.45 656.52L945.7 656.74L945.8 656.82L945.95 656.85L946.2 656.89L946.45 656.93L946.7 656.98L946.8 656.99L946.95 656.88L947.8 656.23L948.8 657L949.8 656.83L950.8 656.14L951.8 656.14L952.8 656.13L953.8 656.56L954.8 656.43L955.8 656L956.8 657.32L957.8 657.33L958.8 656.78L959.8 657.42L960.8 657.84L961.8 656.61L962.8 656.94L963.8 656.88L964.8 657.11L965.8 656.57L966.8 656.08L967.8 657.04L968.8 656.62L969.8 657.03L970.8 657.81L971.8 657.31L972.8 657.68L973.8 658.03L974.8 657.49L975.8 657.61L976.8 657.27L977.8 657.88L978.8 656.99" fill="none" stroke="#000" stroke-width="3.5" stroke-linejoin="round" stroke-linecap="butt"/>
<path d="M1139.3 621.09L1139.55 616.86L1139.8 612.62L1140 609.32L1140.05 608.55L1140.3 604.9L1140.55 601.78L1140.8 599.39L1141 598.12L1141.05 597.88L1141.3 597.32L1141.55 597.83L1141.8 599.37L1142 601.27L1142.05 601.82L1142.3 604.96L1142.55 608.62L1142.8 612.62L1143 615.93L1143.05 616.81L1143.3 621.16ZM1279 651.08L1279.25 650.99L1279.5 650.9L1279.75 650.81L1280 650.71L1280.25 650.7L1280.5 650.69L1280.75 650.67L1281 650.64L1281.25 650.63L1281.5 650.61L1281.75 650.59L1282 650.56L1282.25 650.46L1282.5 650.35L1282.75 650.23L1283 650.11ZM1295.5 413.56L1295.7 378.42L1295.75 369.27L1295.95 331.55L1296 321.9L1296.2 282.92L1296.25 273.13L1296.45 234.36L1296.5 224.86L1296.7 188.27L1296.75 179.6L1296.95 147.56L1297 140.33L1297.2 115.28L1297.25 110.11L1297.45 94.44L1297.5 91.86L1297.7 87.24L1297.75 87.54L1297.95 94.48L1298 97.62L1298.2 115.21L1298.25 120.81L1298.45 147.35L1298.5 154.89L1298.7 187.98L1298.75 196.84L1298.95 233.97L1299 243.55L1299.2 282.66L1299.45 331.45L1299.7 378.32ZM1318 646.49L1318.2 646.42L1318.45 646.34L1318.7 646.25L1318.95 646.18L1319 646.16L1319.2 646L1319.45 645.82L1319.7 645.66L1319.95 645.54L1320 645.52L1320.2 645.44L1320.45 645.37L1320.7 645.34L1320.95 645.33L1321 645.34L1321.2 645.52L1321.45 645.77L1321.7 646.03L1321.95 646.29L1322 646.35L1322.2 646.41ZM1338.8 641.11L1339 640.47L1339.05 640.36L1339.3 639.83L1339.55 639.33L1339.8 638.89L1340 638.6L1340.05 638.5L1340.3 638.04L1340.55 637.72L1340.8 637.56L1341 637.55L1341.05 637.61L1341.3 638.01L1341.55 638.55L1341.8 639.21L1342 639.81L1342.05 639.94L1342.3 640.63L1342.55 641.35L1342.8 642.09L1343 642.67ZM1352.8 647.94L1353 647.97L1353.05 647.99L1353.3 648.09L1353.55 648.19L1353.8 648.29L1354 648.37L1354.05 648.34L1354.3 648.2L1354.55 648.06L1354.8 647.93L1355 647.82L1355.05 647.84L1355.3 647.9L1355.55 647.97L1355.8 648.05L1356 648.11L1356.05 648.13L1356.3 648.22L1356.55 648.32L1356.8 648.42L1357 648.49ZM1379.5 448.96L1379.75 425.37L1380 402.37L1380.25 380.74L1380.5 361.37L1380.75 345.14L1381 332.86L1381.25 325.11L1381.5 322.44L1381.75 325.01L1382 332.66L1382.25 345.07L1382.5 361.43L1382.75 380.92L1383 402.68L1383.25 425.77L1383.5 449.46ZM1417.7 624.28L1417.95 621.17L1418 620.55L1418.2 618.12L1418.45 615.24L1418.7 612.63L1418.95 610.42L1419 610.04L1419.2 608.56L1419.45 607.27L1419.7 606.65L1419.95 606.73L1420 606.82L1420.2 607.8L1420.45 609.57L1420.7 611.84L1420.95 614.51L1421 615.08L1421.2 617.32L1421.45 620.28L1421.7 623.29ZM1454 645.62L1454.25 645.25L1454.5 644.89L1454.75 644.56L1455 644.27L1455.25 644.06L1455.5 643.93L1455.75 643.89L1456 643.94L1456.25 644.06L1456.5 644.28L1456.75 644.59L1457 644.97L1457.25 645.31L1457.5 645.7L1457.75 646.11L1458 646.54ZM1489 638.3L1489.25 637.06L1489.5 635.86L1489.75 634.74L1490 633.74L1490.25 632.97L1490.5 632.41L1490.75 632.09L1491 632.02L1491.25 632.11L1491.5 632.45L1491.75 633.03L1492 633.81L1492.25 634.76L1492.5 635.84L1492.75 636.99L1493 638.18ZM1522 647.3L1522.25 646.94L1522.5 646.6L1522.75 646.28L1523 645.99L1523.25 645.74L1523.5 645.55L1523.75 645.43L1524 645.38L1524.25 645.38L1524.5 645.46L1524.75 645.6L1525 645.8L1525.25 646.12L1525.5 646.48L1525.75 646.85L1526 647.24ZM1554.6 617.46L1554.85 614.84L1555 613.32L1555.1 612.33L1555.35 609.99L1555.6 607.93L1555.85 606.23L1556 605.42L1556.1 604.98L1556.35 604.22L1556.6 603.99L1556.85 604.29L1557 604.72L1557.1 605.11L1557.35 606.4L1557.6 608.12L1557.85 610.2L1558 611.59L1558.1 612.58L1558.35 615.18L1558.6 617.9ZM1616.5 640.23L1616.75 639.23L1617 638.27L1617.25 637.52L1617.5 636.87L1617.75 636.33L1618 635.94L1618.25 635.63L1618.5 635.49L1618.75 635.53L1619 635.74L1619.25 636.16L1619.5 636.73L1619.75 637.41L1620 638.18L1620.25 639L1620.5 639.86ZM1646 519.16L1646.1 514.2L1646.35 501.92L1646.6 490.1L1646.85 479.1L1647 473.06L1647.1 469.35L1647.35 461.26L1647.6 455.17L1647.85 451.39L1648 450.33L1648.1 450.12L1648.35 451.45L1648.6 455.29L1648.85 461.46L1649 466.14L1649.1 469.58L1649.35 479.28L1649.6 490.19L1649.85 501.92L1650 509.21L1650.1 514.14ZM1675 643.21L1675.2 642.65L1675.45 641.97L1675.7 641.32L1675.95 640.72L1676 640.61L1676.2 640.27L1676.45 639.92L1676.7 639.68L1676.95 639.54L1677 639.52L1677.2 639.44L1677.45 639.44L1677.7 639.56L1677.95 639.79L1678 639.85L1678.2 640.14L1678.45 640.58L1678.7 641.09L1678.95 641.65L1679 641.76L1679.2 642.25ZM1703.4 647.73L1703.65 647.56L1703.9 647.41L1704 647.35L1704.15 647.22L1704.4 647.01L1704.65 646.84L1704.9 646.68L1705 646.63L1705.15 646.61L1705.4 646.61L1705.65 646.63L1705.9 646.69L1706 646.72L1706.15 646.71L1706.4 646.71L1706.65 646.74L1706.9 646.79L1707 646.82L1707.15 647.01L1707.4 647.35ZM1731 627.69L1731.1 626.98L1731.35 625.28L1731.6 623.68L1731.85 622.21L1732 621.42L1732.1 620.98L1732.35 620.02L1732.6 619.32L1732.85 618.9L1733 618.78L1733.1 618.72L1733.35 618.79L1733.6 619.15L1733.85 619.8L1734 620.3L1734.1 620.74L1734.35 621.99L1734.6 623.41L1734.85 624.97L1735 625.96L1735.1 626.62ZM1757.7 643.07L1757.95 642.76L1758 642.7L1758.2 642.54L1758.45 642.37L1758.7 642.24L1758.95 642.15L1759 642.14L1759.2 642.05L1759.45 641.98L1759.7 641.97L1759.95 642.01L1760 642.02L1760.2 642.03L1760.45 642.08L1760.7 642.18L1760.95 642.32L1761 642.35L1761.2 642.57L1761.45 642.87L1761.7 643.2ZM1784.6 634.37L1784.85 633.42L1785 632.89L1785.1 632.58L1785.35 631.88L1785.6 631.29L1785.85 630.81L1786 630.59L1786.1 630.42L1786.35 630.09L1786.6 629.92L1786.85 629.91L1787 629.98L1787.1 630.07L1787.35 630.42L1787.6 630.9L1787.85 631.5L1788 631.91L1788.1 632.28L1788.35 633.24L1788.6 634.27ZM1810.7 529.27L1810.95 520.78L1811 519.14L1811.2 512.88L1811.45 505.72L1811.7 499.48L1811.95 494.37L1812 493.5L1812.2 490.75L1812.45 488.62L1812.7 488.05L1812.95 489.05L1813 489.44L1813.2 491.47L1813.45 495.3L1813.7 500.44L1813.95 506.7L1814 508.07L1814.2 513.8L1814.45 521.6L1814.7 529.91ZM1836.45 626.76L1836.7 625.4L1836.95 624.15L1837 623.91L1837.2 623.09L1837.45 622.2L1837.7 621.48L1837.95 620.97L1838 620.89L1838.2 620.63L1838.45 620.5L1838.7 620.61L1838.95 620.94L1839 621.04L1839.2 621.49L1839.45 622.24L1839.7 623.16L1839.95 624.24L1840 624.47L1840.2 625.5L1840.45 626.86ZM1861.65 632.1L1861.9 630.97L1862 630.54L1862.15 629.96L1862.4 629.08L1862.65 628.33L1862.9 627.72L1863 627.52L1863.15 627.18L1863.4 626.76L1863.65 626.52L1863.9 626.47L1864 626.5L1864.15 626.74L1864.4 627.28L1864.65 627.98L1864.9 628.82L1865 629.2L1865.15 629.78L1865.4 630.83L1865.45 631.05L1865.65 631.95L1865.7 632.18ZM1886.45 642.96L1886.7 642.62L1886.95 642.3L1887 642.24L1887.2 641.98L1887.45 641.68L1887.7 641.42L1887.9 641.26L1887.95 641.22L1888 641.19L1888.15 641.16L1888.2 641.15L1888.4 641.16L1888.45 641.16L1888.65 641.21L1888.7 641.23L1888.9 641.32L1888.95 641.35L1889 641.38L1889.15 641.39L1889.2 641.4L1889.4 641.44L1889.45 641.46L1889.65 641.54L1889.7 641.56L1889.9 641.68L1889.95 641.71L1890 641.75L1890.15 642L1890.2 642.08L1890.4 642.44L1890.45 642.53L1890.65 642.9ZM1911.2 646.41L1911.4 646.23L1911.45 646.19L1911.65 646.03L1911.9 645.84L1912 645.77L1912.15 645.65L1912.4 645.48L1912.65 645.32L1912.9 645.19L1913 645.15L1913.15 645.08L1913.4 644.97L1913.65 644.9L1913.9 644.85L1914 644.84L1914.15 644.87L1914.4 644.94L1914.65 645.03L1914.9 645.14L1915 645.19L1915.15 645.29L1915.4 645.47ZM1935.65 639.84L1935.8 639.63L1935.9 639.5L1936 639.37L1936.05 639.23L1936.15 638.96L1936.3 638.56L1936.4 638.31L1936.55 637.95L1936.65 637.72L1936.8 637.4L1936.9 637.21L1937 637.02L1937.05 636.97L1937.15 636.88L1937.3 636.78L1937.4 636.72L1937.55 636.67L1937.65 636.66L1937.8 636.66L1937.9 636.68L1938 636.72L1938.05 636.75L1938.15 636.8L1938.3 636.92L1938.4 637.02L1938.55 637.19L1938.65 637.32L1938.8 637.54L1938.9 637.7L1939 637.87L1939.05 637.93L1939.3 638.29L1939.55 638.7L1939.8 639.16L1940 639.55ZM1960.3 645.46L1960.55 645.19L1960.8 644.95L1961 644.77L1961.05 644.73L1961.3 644.6L1961.55 644.49L1961.8 644.42L1962 644.38L1962.05 644.39L1962.3 644.42L1962.55 644.49L1962.8 644.6L1963 644.72L1963.05 644.75L1963.3 644.92L1963.55 645.12L1963.8 645.34L1964 645.54L1964.05 645.58L1964.3 645.78Z" fill="#000"/>
<path d="M1091 651.84L1092 651.98L1093 651.76L1094 651.72L1095 651.48L1096 651.44L1097 651.64L1098 651.59L1099 651.94L1100 651.87L1101 651.88L1102 651.79L1103 651.35L1104 651.92L1105 651.86L1106 651.87L1107 651.2L1108 650.82L1109 650.82L1110 651.04L1111 651.46L1112 651.5L1113 651.7L1114 651.59L1115 651.87L1116 651.88L1117 651.61L1118 652.13L1119 651.87L1120 652.02L1121 651.62L1122 651.37L1123 651.02L1124 650.84L1125 651.15L1126 651.36L1127 651.34L1127.3 651.3L1127.55 651.26L1127.8 651.23L1128 651.2L1128.05 651.2L1128.3 651.22L1128.55 651.24L1128.8 651.26L1129 651.28L1129.05 651.3L1129.3 651.38L1129.55 651.47L1129.8 651.55L1130 651.62L1130.05 651.6L1130.3 651.49L1130.55 651.39L1130.8 651.28L1131 651.2L1131.05 651.22L1131.3 651.31L1131.55 651.4L1131.8 651.5L1132 651.57L1132.05 651.57L1132.3 651.57L1132.55 651.57L1132.8 651.57L1133 651.56L1133.05 651.52L1133.3 651.3L1133.55 651.08L1133.8 650.85L1134 650.66L1134.05 650.63L1134.3 650.52L1134.55 650.39L1134.8 650.23L1135 650.09L1135.05 650.06L1135.3 649.88L1135.55 649.65L1135.8 649.34L1136 649.04L1136.05 648.91L1136.3 648.21L1136.55 647.36L1136.8 646.33L1137 645.35L1137.05 645.14L1137.3 643.91L1137.55 642.38L1137.8 640.51L1138 638.75L1138.05 638.25L1138.3 635.53L1138.55 632.43L1138.8 628.97L1139 625.96L1139.05 625.17L1139.3 621.09L1139.55 616.86L1139.8 612.62L1140 609.32L1140.05 608.55L1140.3 604.9L1140.55 601.78L1140.8 599.39L1141 598.12L1141.05 597.88L1141.3 597.32L1141.55 597.83L1141.8 599.37L1142 601.27L1142.05 601.82L1142.3 604.96L1142.55 608.62L1142.8 612.62L1143 615.93L1143.05 616.81L1143.3 621.16L1143.55 625.36L1143.8 629.32L1144 632.26L1144.05 632.94L1144.3 636.06L1144.55 638.81L1144.8 641.17L1145 642.78L1145.05 643.15L1145.3 644.79L1145.55 646.13L1145.8 647.2L1146 647.9L1146.05 648.05L1146.3 648.71L1146.55 649.22L1146.8 649.61L1147 649.86L1147.05 649.9L1147.3 650.07L1147.55 650.18L1147.8 650.26L1148 650.3L1148.05 650.32L1148.3 650.44L1148.55 650.54L1148.8 650.63L1149 650.7L1149.05 650.71L1149.3 650.74L1149.55 650.76L1149.8 650.79L1150 650.8L1150.05 650.83L1150.3 651.01L1150.55 651.18L1150.8 651.35L1151 651.48L1151.05 651.47L1151.3 651.4L1151.55 651.33L1151.8 651.25L1152 651.2L1152.05 651.19L1152.3 651.16L1152.55 651.13L1152.8 651.1L1153 651.07L1153.05 651.06L1153.3 651L1153.55 650.94L1153.8 650.88L1154 650.83L1154.05 650.84L1154.3 650.89L1154.55 650.94L1154.8 650.98L1155 651.02L1155.05 651.03L1155.3 651.1L1156 651.29L1157 651.8L1158 651.03L1159 651.08L1160 651.43L1161 651.76L1162 651.66L1163 651.16L1164 650.98L1165 651.52L1166 651.23L1167 651.09L1168 651.45L1169 651.43L1170 651.39L1171 651.75L1172 651.96L1173 652.17L1174 651.86L1175 651.79L1176 651.74L1177 651.16L1178 651.74L1179 651.72L1180 651.72L1181 651.21L1182 651.56L1183 651.99L1184 651.44L1185 651.68L1186 651.71L1187 651.06L1188 651.77L1189 651.64L1190 651.54L1191 651.69L1192 651.84L1193 651.76L1194 651.99L1195 651.59L1196 651.64L1197 651.91L1198 651.58L1199 651.32L1200 651.62L1201 651.51L1202 650.97L1203 650.97L1204 651.67L1205 651.88L1206 651.79L1207 652.06L1208 651.45L1209 651.95L1210 651.34L1211 651.43L1212 651.73L1213 651.8L1214 651.72L1215 651.64L1216 651.66L1217 651.7L1218 651.75L1219 651.5L1220 651.55L1221 651.58L1222 651.38L1223 651.51L1224 651.49L1225 651.85L1226 651.49L1227 651.33L1228 651.36L1229 651.45L1230 651.66L1231 651.37L1232 651.53L1233 651.82L1234 650.77L1235 651.06L1236 651.48L1237 651.74L1238 651.81L1239 651.54L1240 651.54L1241 651.33L1242 651.28L1243 652.18L1244 651.84L1245 651.53L1246 651.42L1247 651.29L1248 651.41L1249 650.99L1250 651.57L1251 651.97L1252 651.61L1253 651.92L1254 652.08L1255 651.9L1256 651.97L1257 651.19L1258 651.37L1259 651.31L1260 651.57L1261 651.77L1262 650.97L1263 651.81L1263.25 651.67L1263.5 651.53L1263.75 651.39L1264 651.25L1264.25 651.36L1264.5 651.48L1264.75 651.6L1265 651.72L1265.25 651.56L1265.5 651.41L1265.75 651.25L1266 651.1L1266.25 651.13L1266.5 651.16L1266.75 651.19L1267 651.22L1267.25 651.24L1267.5 651.26L1267.75 651.29L1268 651.31L1268.25 651.24L1268.5 651.18L1268.75 651.12L1269 651.05L1269.25 651.1L1269.5 651.15L1269.75 651.2L1270 651.24L1270.25 651.29L1270.5 651.33L1270.75 651.37L1271 651.42L1271.25 651.38L1271.5 651.35L1271.75 651.31L1272 651.28L1272.25 651.28L1272.5 651.28L1272.75 651.28L1273 651.27L1273.25 651.36L1273.5 651.45L1273.75 651.54L1274 651.63L1274.25 651.58L1274.5 651.53L1274.75 651.47L1275 651.42L1275.25 651.31L1275.5 651.2L1275.75 651.09L1276 650.98L1276.25 651.12L1276.5 651.26L1276.75 651.41L1277 651.55L1277.25 651.32L1277.5 651.1L1277.75 650.87L1278 650.64L1278.25 650.75L1278.5 650.86L1278.75 650.97L1279 651.08L1279.25 650.99L1279.5 650.9L1279.75 650.81L1280 650.71L1280.25 650.7L1280.5 650.69L1280.75 650.67L1281 650.64L1281.25 650.63L1281.5 650.61L1281.75 650.59L1282 650.56L1282.25 650.46L1282.5 650.35L1282.75 650.23L1283 650.11L1283.25 650.03L1283.5 649.94L1283.75 649.84L1284 649.74L1284.25 649.48L1284.5 649.22L1284.75 648.95L1284.95 648.74L1285 648.68L1285.2 648.54L1285.25 648.5L1285.45 648.35L1285.5 648.32L1285.7 648.16L1285.75 648.12L1285.95 647.96L1286 647.92L1286.2 647.84L1286.25 647.82L1286.45 647.73L1286.5 647.71L1286.7 647.61L1286.75 647.59L1286.95 647.48L1287 647.45L1287.2 647.17L1287.25 647.09L1287.45 646.79L1287.5 646.72L1287.7 646.4L1287.75 646.32L1287.95 645.99L1288 645.9L1288.2 645.62L1288.25 645.55L1288.45 645.24L1288.5 645.16L1288.7 644.83L1288.75 644.74L1288.95 644.39L1289 644.3L1289.2 643.89L1289.25 643.78L1289.45 643.34L1289.5 643.23L1289.7 642.75L1289.75 642.63L1289.95 642.11L1290 641.98L1290.2 641.55L1290.25 641.44L1290.45 640.96L1290.5 640.83L1290.7 640.28L1290.75 640.13L1290.95 639.5L1291 639.33L1291.2 638.46L1291.25 638.23L1291.45 637.22L1291.5 636.95L1291.7 635.76L1291.75 635.44L1291.95 634.01L1292 633.62L1292.2 631.92L1292.25 631.44L1292.45 629.29L1292.5 628.68L1292.7 625.91L1292.75 625.12L1292.95 621.52L1293 620.49L1293.2 615.62L1293.25 614.24L1293.45 607.93L1293.5 606.13L1293.7 597.97L1293.75 595.65L1293.95 585.19L1294 582.25L1294.2 569.18L1294.25 565.53L1294.45 549.23L1294.5 544.72L1294.7 524.79L1294.75 519.33L1294.95 495.51L1295 489.05L1295.2 461.15L1295.25 453.69L1295.45 421.94L1295.5 413.56L1295.7 378.42L1295.75 369.27L1295.95 331.55L1296 321.9L1296.2 282.92L1296.25 273.13L1296.45 234.36L1296.5 224.86L1296.7 188.27L1296.75 179.6L1296.95 147.56L1297 140.33L1297.2 115.28L1297.25 110.11L1297.45 94.44L1297.5 91.86L1297.7 87.24L1297.75 87.54L1297.95 94.48L1298 97.62L1298.2 115.21L1298.25 120.81L1298.45 147.35L1298.5 154.89L1298.7 187.98L1298.75 196.84L1298.95 233.97L1299 243.55L1299.2 282.66L1299.45 331.45L1299.7 378.32L1299.95 421.85L1300 430.07L1300.2 460.96L1300.45 495.2L1300.7 524.44L1300.95 548.83L1301 553.16L1301.2 568.72L1301.45 584.62L1301.7 597.12L1301.95 606.81L1302 608.46L1302.2 614.21L1302.45 619.84L1302.7 624.11L1302.95 627.37L1303 627.92L1303.2 630.11L1303.45 632.37L1303.7 634.23L1303.95 635.8L1304 636.08L1304.2 636.93L1304.45 637.85L1304.7 638.65L1304.95 639.34L1305 639.47L1305.2 640L1305.45 640.61L1305.7 641.15L1305.95 641.64L1306 641.74L1306.2 642.16L1306.45 642.65L1306.7 643.1L1306.95 643.53L1307 643.61L1307.2 643.85L1307.45 644.14L1307.7 644.4L1307.95 644.64L1308 644.68L1308.2 644.89L1308.45 645.12L1308.7 645.34L1308.95 645.55L1309 645.59L1309.2 645.6L1309.45 645.6L1309.7 645.59L1309.95 645.57L1310 645.56L1310.2 645.78L1310.45 646.05L1310.7 646.31L1310.95 646.55L1311 646.6L1311.2 646.73L1311.45 646.89L1311.7 647.04L1311.95 647.18L1312 647.21L1312.2 647.28L1312.45 647.37L1312.7 647.45L1312.95 647.53L1313 647.54L1313.2 647.51L1313.45 647.47L1313.7 647.42L1313.95 647.37L1314 647.36L1314.2 647.36L1314.45 647.36L1314.7 647.36L1314.95 647.34L1315 647.33L1315.2 647.41L1315.45 647.5L1315.7 647.58L1315.95 647.65L1316 647.66L1316.2 647.57L1316.45 647.44L1316.7 647.3L1316.95 647.14L1317 647.11L1317.2 647L1317.45 646.85L1317.7 646.69L1317.95 646.53L1318 646.49L1318.2 646.42L1318.45 646.34L1318.7 646.25L1318.95 646.18L1319 646.16L1319.2 646L1319.45 645.82L1319.7 645.66L1319.95 645.54L1320 645.52L1320.2 645.44L1320.45 645.37L1320.7 645.34L1320.95 645.33L1321 645.34L1321.2 645.52L1321.45 645.77L1321.7 646.03L1321.95 646.29L1322 646.35L1322.2 646.41L1322.45 646.48L1322.7 646.55L1322.95 646.61L1323 646.63L1323.2 646.86L1323.45 647.14L1323.7 647.41L1323.95 647.66L1324 647.71L1324.2 647.76L1324.45 647.8L1324.7 647.84L1324.95 647.86L1325 647.87L1325.2 647.84L1325.45 647.81L1325.7 647.77L1325.8 647.75L1325.95 647.72L1326 647.71L1326.05 647.71L1326.2 647.73L1326.3 647.73L1326.45 647.74L1326.55 647.75L1326.7 647.76L1326.8 647.77L1326.95 647.77L1327 647.78L1327.05 647.78L1327.2 647.8L1327.3 647.82L1327.45 647.84L1327.55 647.85L1327.7 647.87L1327.8 647.88L1327.95 647.9L1328 647.91L1328.05 647.91L1328.2 647.9L1328.3 647.9L1328.45 647.89L1328.55 647.88L1328.7 647.87L1328.8 647.87L1328.95 647.86L1329 647.86L1329.05 647.88L1329.2 647.96L1329.3 648.02L1329.45 648.1L1329.55 648.15L1329.7 648.23L1329.8 648.28L1329.95 648.36L1330 648.39L1330.05 648.38L1330.2 648.35L1330.3 648.33L1330.45 648.3L1330.55 648.28L1330.7 648.25L1330.8 648.23L1330.95 648.19L1331 648.18L1331.05 648.18L1331.2 648.17L1331.3 648.16L1331.45 648.14L1331.55 648.14L1331.7 648.12L1331.8 648.11L1331.95 648.1L1332 648.09L1332.05 648.07L1332.2 647.99L1332.3 647.93L1332.45 647.85L1332.55 647.8L1332.7 647.71L1332.8 647.66L1332.95 647.58L1333 647.55L1333.05 647.53L1333.2 647.48L1333.3 647.45L1333.45 647.39L1333.55 647.36L1333.7 647.3L1333.8 647.27L1333.95 647.21L1334 647.19L1334.05 647.17L1334.2 647.09L1334.3 647.04L1334.45 646.96L1334.55 646.91L1334.7 646.82L1334.8 646.77L1334.95 646.67L1335 646.64L1335.05 646.66L1335.2 646.71L1335.3 646.74L1335.45 646.78L1335.55 646.8L1335.7 646.82L1335.8 646.83L1336 646.83L1336.05 646.77L1336.3 646.46L1336.55 646.1L1336.8 645.69L1337 645.33L1337.05 645.26L1337.3 644.88L1337.55 644.44L1337.8 643.94L1338 643.51L1338.05 643.37L1338.3 642.65L1338.55 641.89L1338.8 641.11L1339 640.47L1339.05 640.36L1339.3 639.83L1339.55 639.33L1339.8 638.89L1340 638.6L1340.05 638.5L1340.3 638.04L1340.55 637.72L1340.8 637.56L1341 637.55L1341.05 637.61L1341.3 638.01L1341.55 638.55L1341.8 639.21L1342 639.81L1342.05 639.94L1342.3 640.63L1342.55 641.35L1342.8 642.09L1343 642.67L1343.05 642.82L1343.3 643.52L1343.55 644.19L1343.8 644.8L1344 645.25L1344.05 645.36L1344.3 645.85L1344.55 646.28L1344.8 646.65L1345 646.91L1345.05 646.99L1345.3 647.31L1345.55 647.59L1345.8 647.84L1346 648.01L1346.05 648.04L1346.3 648.16L1346.55 648.26L1346.8 648.34L1347 648.4L1347.05 648.36L1347.3 648.15L1347.55 647.93L1347.8 647.71L1348 647.53L1348.05 647.52L1348.3 647.5L1348.55 647.47L1348.8 647.44L1349 647.42L1349.05 647.43L1349.3 647.52L1349.55 647.61L1349.8 647.69L1350 647.76L1350.05 647.76L1350.3 647.79L1350.55 647.82L1350.8 647.84L1351 647.86L1351.05 647.86L1351.3 647.85L1351.55 647.83L1351.8 647.81L1352 647.8L1352.05 647.81L1352.3 647.85L1352.55 647.89L1352.8 647.94L1353 647.97L1353.05 647.99L1353.3 648.09L1353.55 648.19L1353.8 648.29L1354 648.37L1354.05 648.34L1354.3 648.2L1354.55 648.06L1354.8 647.93L1355 647.82L1355.05 647.84L1355.3 647.9L1355.55 647.97L1355.8 648.05L1356 648.11L1356.05 648.13L1356.3 648.22L1356.55 648.32L1356.8 648.42L1357 648.49L1357.05 648.5L1357.3 648.5L1357.55 648.51L1357.8 648.51L1358 648.51L1358.05 648.51L1358.3 648.51L1358.55 648.5L1358.8 648.49L1359 648.48L1359.05 648.5L1359.3 648.59L1359.55 648.67L1359.8 648.76L1360 648.83L1360.05 648.82L1360.3 648.81L1360.55 648.8L1360.8 648.78L1361 648.77L1361.05 648.75L1361.3 648.64L1361.55 648.52L1361.8 648.41L1362 648.31L1362.05 648.29L1362.3 648.18L1362.55 648.08L1362.8 647.97L1363 647.88L1363.05 647.88L1363.3 647.89L1363.55 647.89L1363.8 647.9L1364 647.9L1364.05 647.92L1364.3 648.05L1364.55 648.18L1364.8 648.31L1365 648.41L1365.05 648.41L1365.3 648.42L1365.55 648.42L1365.8 648.42L1366 648.41L1366.05 648.42L1366.3 648.43L1366.5 648.44L1366.55 648.44L1366.75 648.44L1366.8 648.44L1367 648.45L1367.05 648.44L1367.25 648.42L1367.3 648.42L1367.5 648.39L1367.55 648.39L1367.75 648.36L1367.8 648.35L1368 648.33L1368.05 648.31L1368.25 648.23L1368.3 648.21L1368.5 648.13L1368.55 648.11L1368.75 648.03L1368.8 648.01L1369 647.92L1369.05 647.93L1369.25 647.94L1369.3 647.95L1369.5 647.96L1369.55 647.96L1369.75 647.97L1369.8 647.97L1370 647.97L1370.05 647.95L1370.25 647.84L1370.3 647.81L1370.5 647.7L1370.75 647.55L1371 647.39L1371.25 647.37L1371.5 647.33L1371.75 647.29L1372 647.24L1372.25 646.94L1372.5 646.63L1372.75 646.3L1373 645.94L1373.25 645.86L1373.5 645.74L1373.75 645.58L1374 645.35L1374.25 644.82L1374.5 644.17L1374.75 643.37L1375 642.36L1375.25 641.06L1375.5 639.4L1375.75 637.26L1376 634.52L1376.25 631.27L1376.5 627.09L1376.75 621.79L1377 615.16L1377.25 606.81L1377.5 596.75L1377.75 584.8L1378 570.85L1378.25 554.77L1378.5 536.68L1378.75 516.71L1379 495.12L1379.25 472.41L1379.5 448.96L1379.75 425.37L1380 402.37L1380.25 380.74L1380.5 361.37L1380.75 345.14L1381 332.86L1381.25 325.11L1381.5 322.44L1381.75 325.01L1382 332.66L1382.25 345.07L1382.5 361.43L1382.75 380.92L1383 402.68L1383.25 425.77L1383.5 449.46L1383.75 473.01L1384 495.81L1384.25 517.35L1384.5 537.25L1384.75 555.27L1385 571.28L1385.25 585.2L1385.5 597.12L1385.75 607.16L1386 615.47L1386.25 622.32L1386.5 627.84L1386.75 632.24L1387 635.71L1387.25 638.34L1387.5 640.37L1387.75 641.92L1388 643.1L1388.25 644.02L1388.5 644.72L1388.75 645.27L1389 645.71L1389.25 645.9L1389.5 646.03L1389.75 646.11L1390 646.15L1390.25 646.51L1390.5 646.84L1390.75 647.15L1391 647.45L1391.25 647.65L1391.5 647.85L1391.75 648.03L1392 648.21L1392.25 648.3L1392.5 648.38L1392.75 648.45L1393 648.52L1393.25 648.63L1393.5 648.74L1393.75 648.84L1394 648.93L1394.25 649.14L1394.5 649.34L1394.75 649.54L1395 649.73L1395.25 649.58L1395.5 649.43L1395.75 649.28L1396 649.13L1396.25 649.3L1396.5 649.47L1397 649.8L1398 650.39L1399 649.81L1400 650.29L1401 650.52L1402 649.91L1403 649.99L1404 650.14L1404.45 650.01L1404.7 649.94L1404.95 649.86L1405 649.85L1405.2 649.9L1405.45 649.95L1405.7 650.01L1405.95 650.07L1406 650.08L1406.2 650.1L1406.45 650.13L1406.7 650.15L1406.95 650.18L1407 650.18L1407.2 650.22L1407.45 650.26L1407.7 650.3L1407.95 650.34L1408 650.34L1408.2 650.3L1408.45 650.25L1408.7 650.2L1408.95 650.14L1409 650.13L1409.2 650.1L1409.45 650.06L1409.7 650.02L1409.95 649.98L1410 649.97L1410.2 649.9L1410.45 649.81L1410.7 649.71L1410.95 649.61L1411 649.59L1411.2 649.58L1411.45 649.56L1411.7 649.53L1411.95 649.5L1412 649.49L1412.2 649.5L1412.45 649.5L1412.7 649.48L1412.95 649.43L1413 649.42L1413.2 649.28L1413.45 649.06L1413.7 648.8L1413.95 648.46L1414 648.39L1414.2 648.03L1414.45 647.49L1414.7 646.82L1414.95 646.02L1415 645.84L1415.2 645.08L1415.45 643.96L1415.7 642.62L1415.95 641.06L1416 640.71L1416.2 639.41L1416.45 637.55L1416.7 635.45L1416.95 633.12L1417 632.63L1417.2 630.35L1417.45 627.36L1417.7 624.28L1417.95 621.17L1418 620.55L1418.2 618.12L1418.45 615.24L1418.7 612.63L1418.95 610.42L1419 610.04L1419.2 608.56L1419.45 607.27L1419.7 606.65L1419.95 606.73L1420 606.82L1420.2 607.8L1420.45 609.57L1420.7 611.84L1420.95 614.51L1421 615.08L1421.2 617.32L1421.45 620.28L1421.7 623.29L1421.95 626.28L1422 626.87L1422.2 629.22L1422.45 632.01L1422.7 634.6L1422.95 636.96L1423 637.4L1423.2 638.97L1423.45 640.71L1423.7 642.21L1423.95 643.47L1424 643.7L1424.2 644.6L1424.45 645.56L1424.7 646.35L1424.95 647L1425 647.11L1425.2 647.6L1425.45 648.13L1425.7 648.58L1425.95 648.96L1426 649.03L1426.2 649.11L1426.45 649.18L1426.7 649.22L1426.95 649.24L1427 649.24L1427.2 649.46L1427.45 649.71L1427.7 649.96L1427.95 650.19L1428 650.24L1428.2 650.27L1428.45 650.3L1428.7 650.32L1428.95 650.34L1429 650.34L1429.2 650.33L1429.45 650.32L1429.7 650.3L1429.95 650.28L1430 650.28L1430.2 650.38L1430.45 650.51L1430.7 650.64L1430.95 650.76L1431 650.79L1431.2 650.81L1431.45 650.84L1431.7 650.86L1431.95 650.89L1432 650.89L1432.2 650.75L1432.45 650.58L1432.7 650.4L1432.95 650.22L1433 650.19L1433.2 650.23L1433.45 650.28L1433.7 650.33L1433.95 650.38L1434 650.39L1434.2 650.44L1434.45 650.5L1434.7 650.56L1434.95 650.61L1435 650.63L1436 650.62L1437 650.42L1438 650.13L1439 650.75L1440 650.51L1440.25 650.38L1440.5 650.25L1440.75 650.13L1441 650L1441.25 649.99L1441.5 649.98L1441.75 649.97L1442 649.96L1442.25 650.16L1442.5 650.35L1442.75 650.55L1443 650.75L1443.25 650.76L1443.5 650.76L1443.75 650.77L1444 650.78L1444.25 650.85L1444.5 650.92L1444.75 650.99L1445 651.06L1445.25 650.97L1445.5 650.89L1445.75 650.8L1446 650.71L1446.25 650.55L1446.5 650.4L1446.75 650.24L1447 650.08L1447.25 650.11L1447.5 650.14L1447.75 650.16L1448 650.19L1448.25 650.03L1448.5 649.86L1448.75 649.69L1449 649.52L1449.25 649.54L1449.5 649.56L1449.75 649.56L1450 649.56L1450.25 649.52L1450.5 649.46L1450.75 649.38L1451 649.28L1451.25 649.18L1451.5 649.05L1451.75 648.89L1452 648.7L1452.25 648.38L1452.5 648.02L1452.75 647.63L1453 647.2L1453.25 646.84L1453.5 646.45L1453.75 646.04L1454 645.62L1454.25 645.25L1454.5 644.89L1454.75 644.56L1455 644.27L1455.25 644.06L1455.5 643.93L1455.75 643.89L1456 643.94L1456.25 644.06L1456.5 644.28L1456.75 644.59L1457 644.97L1457.25 645.31L1457.5 645.7L1457.75 646.11L1458 646.54L1458.25 646.96L1458.5 647.36L1458.75 647.75L1459 648.12L1459.25 648.55L1459.5 648.95L1459.75 649.32L1460 649.65L1460.25 649.8L1460.5 649.93L1460.75 650.02L1461 650.09L1461.25 650.08L1461.5 650.05L1461.75 650L1462 649.93L1462.25 649.96L1462.5 649.97L1462.75 649.98L1463 649.98L1463.25 650.03L1463.5 650.09L1463.75 650.14L1464 650.18L1464.25 650.19L1464.5 650.19L1464.75 650.19L1465 650.19L1465.25 650.21L1465.5 650.23L1465.75 650.25L1466 650.27L1466.25 650.28L1466.5 650.29L1466.75 650.3L1467 650.31L1467.25 650.35L1467.5 650.4L1467.75 650.44L1468 650.48L1468.25 650.48L1468.5 650.48L1468.75 650.48L1469 650.48L1469.25 650.4L1469.5 650.32L1469.75 650.25L1470 650.17L1470.25 650.23L1470.5 650.29L1470.75 650.36L1471 650.42L1471.25 650.44L1471.5 650.46L1471.75 650.48L1472 650.5L1473 650.49L1474 650.6L1475 650.86L1475.25 650.76L1475.5 650.65L1475.75 650.55L1476 650.44L1476.25 650.34L1476.5 650.24L1476.75 650.14L1477 650.04L1477.25 650.13L1477.5 650.21L1477.75 650.29L1478 650.37L1478.25 650.29L1478.5 650.22L1478.75 650.14L1479 650.06L1479.25 650.11L1479.5 650.16L1479.75 650.22L1480 650.27L1480.25 650.14L1480.5 650.01L1480.75 649.88L1481 649.75L1481.25 649.68L1481.5 649.62L1481.75 649.55L1482 649.49L1482.25 649.63L1482.5 649.77L1482.75 649.91L1483 650.04L1483.25 650.19L1483.5 650.33L1483.75 650.46L1484 650.58L1484.25 650.37L1484.5 650.13L1484.75 649.87L1485 649.59L1485.25 649.29L1485.5 648.96L1485.75 648.57L1486 648.13L1486.25 647.74L1486.5 647.28L1486.75 646.73L1487 646.09L1487.25 645.44L1487.5 644.7L1487.75 643.85L1488 642.92L1488.25 641.85L1488.5 640.71L1488.75 639.52L1489 638.3L1489.25 637.06L1489.5 635.86L1489.75 634.74L1490 633.74L1490.25 632.97L1490.5 632.41L1490.75 632.09L1491 632.02L1491.25 632.11L1491.5 632.45L1491.75 633.03L1492 633.81L1492.25 634.76L1492.5 635.84L1492.75 636.99L1493 638.18L1493.25 639.44L1493.5 640.69L1493.75 641.88L1494 643.01L1494.25 644.08L1494.5 645.05L1494.75 645.93L1495 646.72L1495.25 647.32L1495.5 647.82L1495.75 648.25L1496 648.6L1496.25 648.94L1496.5 649.22L1496.75 649.46L1497 649.65L1497.25 649.7L1497.5 649.72L1497.75 649.71L1498 649.69L1498.25 649.82L1498.5 649.93L1498.75 650.04L1499 650.14L1499.25 650.2L1499.5 650.26L1499.75 650.32L1500 650.37L1500.25 650.3L1500.5 650.23L1500.75 650.15L1501 650.08L1501.25 650.15L1501.5 650.23L1501.75 650.3L1502 650.37L1502.25 650.33L1502.5 650.3L1502.75 650.26L1503 650.23L1503.25 650.21L1503.5 650.2L1503.75 650.19L1504 650.18L1504.25 650.1L1504.5 650.03L1504.75 649.95L1505 649.88L1505.25 650.03L1505.5 650.18L1505.75 650.33L1506 650.49L1506.25 650.41L1506.5 650.32L1506.75 650.24L1507 650.16L1508 649.82L1508.25 649.85L1508.5 649.89L1508.75 649.92L1509 649.95L1509.25 650.12L1509.5 650.29L1509.75 650.46L1510 650.64L1510.25 650.49L1510.5 650.34L1510.75 650.19L1511 650.04L1511.25 650.11L1511.5 650.19L1511.75 650.26L1512 650.34L1512.25 650.36L1512.5 650.38L1512.75 650.4L1513 650.42L1513.25 650.37L1513.5 650.32L1513.75 650.27L1514 650.22L1514.25 650.17L1514.5 650.11L1514.75 650.05L1515 649.99L1515.25 650.08L1515.5 650.18L1515.75 650.27L1516 650.36L1516.25 650.37L1516.5 650.38L1516.75 650.39L1517 650.39L1517.25 650.41L1517.5 650.43L1517.75 650.44L1518 650.45L1518.25 650.38L1518.5 650.3L1518.75 650.21L1519 650.1L1519.25 649.95L1519.5 649.78L1519.75 649.59L1520 649.37L1520.25 649.22L1520.5 649.04L1520.75 648.84L1521 648.61L1521.25 648.31L1521.5 647.98L1521.75 647.64L1522 647.3L1522.25 646.94L1522.5 646.6L1522.75 646.28L1523 645.99L1523.25 645.74L1523.5 645.55L1523.75 645.43L1524 645.38L1524.25 645.38L1524.5 645.46L1524.75 645.6L1525 645.8L1525.25 646.12L1525.5 646.48L1525.75 646.85L1526 647.24L1526.25 647.47L1526.5 647.69L1526.75 647.9L1527 648.09L1527.25 648.37L1527.5 648.62L1527.75 648.84L1528 649.04L1528.25 649.24L1528.5 649.41L1528.75 649.56L1529 649.69L1529.25 649.7L1529.5 649.69L1529.75 649.67L1530 649.63L1530.25 649.73L1530.5 649.82L1530.75 649.91L1531 649.99L1531.25 649.91L1531.5 649.84L1531.75 649.76L1532 649.68L1532.25 649.74L1532.5 649.8L1532.75 649.85L1533 649.91L1533.25 649.94L1533.5 649.96L1533.75 649.99L1534 650.02L1534.25 649.99L1534.5 649.97L1534.75 649.95L1535 649.93L1535.25 649.92L1535.5 649.91L1535.75 649.91L1536 649.9L1536.25 649.95L1536.5 650L1536.75 650.05L1537 650.09L1537.25 650.05L1537.5 650.01L1537.75 649.97L1538 649.93L1538.25 650.12L1538.5 650.3L1538.75 650.49L1539 650.67L1539.1 650.65L1539.25 650.61L1539.35 650.59L1539.5 650.55L1539.6 650.53L1539.75 650.49L1539.85 650.47L1540 650.43L1540.1 650.45L1540.35 650.48L1540.6 650.51L1540.85 650.54L1541 650.56L1541.1 650.51L1541.35 650.39L1541.6 650.27L1541.85 650.15L1542 650.07L1542.1 650.08L1542.35 650.11L1542.6 650.14L1542.85 650.16L1543 650.17L1543.1 650.13L1543.35 650.02L1543.6 649.91L1543.85 649.8L1544 649.73L1544.1 649.78L1544.35 649.89L1544.6 650L1544.85 650.11L1545 650.18L1545.1 650.16L1545.35 650.12L1545.6 650.08L1545.85 650.03L1546 650L1546.1 649.92L1546.35 649.71L1546.6 649.5L1546.85 649.28L1547 649.15L1547.1 649.17L1547.35 649.21L1547.6 649.25L1547.85 649.27L1548 649.28L1548.1 649.26L1548.35 649.19L1548.6 649.11L1548.85 649L1549 648.92L1549.1 648.79L1549.35 648.44L1549.6 648.05L1549.85 647.6L1550 647.3L1550.1 647.15L1550.35 646.71L1550.6 646.18L1550.85 645.54L1551 645.1L1551.1 644.81L1551.35 643.98L1551.6 643L1551.85 641.85L1552 641.08L1552.1 640.51L1552.35 638.96L1552.6 637.23L1552.85 635.3L1553 634.05L1553.1 633.15L1553.35 630.76L1553.6 628.22L1553.85 625.55L1554 623.91L1554.1 622.84L1554.35 620.15L1554.6 617.46L1554.85 614.84L1555 613.32L1555.1 612.33L1555.35 609.99L1555.6 607.93L1555.85 606.23L1556 605.42L1556.1 604.98L1556.35 604.22L1556.6 603.99L1556.85 604.29L1557 604.72L1557.1 605.11L1557.35 606.4L1557.6 608.12L1557.85 610.2L1558 611.59L1558.1 612.58L1558.35 615.18L1558.6 617.9L1558.85 620.7L1559 622.38L1559.1 623.47L1559.35 626.15L1559.6 628.73L1559.85 631.19L1560 632.6L1560.1 633.45L1560.35 635.47L1560.6 637.31L1560.85 638.95L1561 639.84L1561.1 640.48L1561.35 641.93L1561.6 643.2L1561.85 644.31L1562 644.91L1562.1 645.24L1562.35 645.98L1562.6 646.6L1562.85 647.12L1563 647.38L1563.1 647.55L1563.35 647.93L1563.6 648.23L1563.85 648.48L1564 648.61L1564.1 648.72L1564.35 648.95L1564.6 649.15L1564.85 649.34L1565 649.43L1565.1 649.49L1565.35 649.6L1565.6 649.71L1565.85 649.81L1566 649.86L1566.1 649.91L1566.35 650.03L1566.6 650.15L1566.85 650.26L1567 650.33L1567.1 650.31L1567.35 650.25L1567.6 650.2L1567.85 650.14L1568 650.1L1568.1 650.11L1568.35 650.13L1568.6 650.16L1568.85 650.18L1569 650.19L1569.1 650.21L1569.35 650.24L1569.6 650.28L1569.85 650.32L1570 650.37L1570.1 650.38L1570.35 650.4L1570.6 650.43L1570.85 650.45L1571 650.46L1571.1 650.47L1571.35 650.49L1571.6 650.52L1571.85 650.54L1572 650.55L1572.1 650.55L1572.35 650.56L1572.6 650.58L1572.85 650.59L1573 650.59L1573.1 650.6L1573.35 650.61L1573.6 650.61L1573.85 650.62L1574 650.63L1574.1 650.63L1575 650.66L1576 650.68L1577 650.71L1578 650.73L1579 650.74L1580 650.75L1581 650.77L1582 650.78L1583 650.78L1584 650.79L1585 650.8L1586 650.8L1587 650.8L1588 650.81L1589 650.81L1590 650.81L1591 650.81L1592 650.81L1593 650.81L1594 650.81L1595 650.81L1596 650.8L1597 650.8L1598 650.79L1599 650.78L1600 650.77L1601 650.76L1601.25 650.76L1601.5 650.76L1601.75 650.75L1602 650.75L1602.25 650.75L1602.5 650.74L1602.75 650.74L1603 650.73L1603.25 650.73L1603.5 650.73L1603.75 650.72L1604 650.72L1604.25 650.71L1604.5 650.7L1604.75 650.7L1605 650.69L1605.25 650.68L1605.5 650.68L1605.75 650.67L1606 650.66L1606.25 650.65L1606.5 650.64L1606.75 650.63L1607 650.62L1607.25 650.61L1607.5 650.6L1607.75 650.59L1608 650.58L1608.25 650.51L1608.5 650.61L1608.75 650.71L1609 650.8L1609.25 650.74L1609.5 650.68L1609.75 650.62L1610 650.55L1610.25 650.59L1610.5 650.61L1610.75 650.64L1611 650.65L1611.25 650.41L1611.5 650.16L1611.75 649.89L1612 649.6L1612.25 649.56L1612.5 649.48L1612.75 649.37L1613 649.23L1613.25 648.96L1613.5 648.65L1613.75 648.28L1614 647.85L1614.25 647.31L1614.5 646.7L1614.75 646.03L1615 645.31L1615.25 644.62L1615.5 643.88L1615.75 643.1L1616 642.29L1616.25 641.26L1616.5 640.23L1616.75 639.23L1617 638.27L1617.25 637.52L1617.5 636.87L1617.75 636.33L1618 635.94L1618.25 635.63L1618.5 635.49L1618.75 635.53L1619 635.74L1619.25 636.16L1619.5 636.73L1619.75 637.41L1620 638.18L1620.25 639L1620.5 639.86L1620.75 640.73L1621 641.61L1621.25 642.46L1621.5 643.27L1621.75 644.04L1622 644.76L1622.25 645.49L1622.5 646.16L1622.75 646.76L1623 647.3L1623.25 647.65L1623.5 647.94L1623.75 648.17L1624 648.36L1624.25 648.72L1624.5 649.04L1624.75 649.32L1625 649.58L1625.25 649.56L1625.5 649.52L1625.75 649.46L1626 649.39L1626.25 649.49L1626.5 649.59L1626.75 649.67L1627 649.75L1627.25 649.86L1627.5 649.96L1627.75 650.06L1628 650.16L1628.25 650.06L1628.5 649.95L1628.75 649.85L1629 649.74L1629.25 649.81L1629.5 649.88L1629.75 649.94L1630 650.01L1630.25 650.08L1630.5 650.16L1630.75 650.23L1631 650.29L1631.25 650.16L1631.35 650.11L1631.5 650.03L1631.6 649.97L1631.75 649.89L1631.85 649.84L1632 649.75L1632.1 649.69L1632.25 649.59L1632.35 649.53L1632.5 649.43L1632.6 649.37L1632.75 649.27L1632.85 649.2L1633 649.1L1633.1 649.09L1633.25 649.07L1633.35 649.06L1633.5 649.03L1633.6 649.02L1633.75 649L1633.85 648.98L1634 648.95L1634.1 648.94L1634.25 648.91L1634.35 648.89L1634.5 648.86L1634.6 648.84L1634.75 648.81L1634.85 648.79L1635 648.75L1635.1 648.73L1635.25 648.69L1635.35 648.66L1635.5 648.62L1635.6 648.59L1635.75 648.54L1635.85 648.51L1636 648.46L1636.1 648.39L1636.35 648.2L1636.6 648L1636.85 647.79L1637 647.66L1637.1 647.67L1637.35 647.69L1637.6 647.7L1637.85 647.69L1638 647.68L1638.1 647.63L1638.35 647.48L1638.6 647.31L1638.85 647.12L1639 647L1639.1 646.86L1639.35 646.49L1639.6 646.07L1639.85 645.61L1640 645.3L1640.1 645.11L1640.35 644.56L1640.6 643.92L1640.85 643.15L1641 642.62L1641.1 642.2L1641.35 641.03L1641.6 639.62L1641.85 637.93L1642 636.75L1642.1 635.96L1642.35 633.68L1642.6 630.93L1642.85 627.64L1643 625.37L1643.1 623.63L1643.35 618.8L1643.6 613.21L1643.85 606.79L1644 602.52L1644.1 599.57L1644.35 591.57L1644.6 582.68L1644.85 572.92L1645 566.67L1645.1 562.31L1645.35 550.92L1645.6 538.96L1645.85 526.64L1646 519.16L1646.1 514.2L1646.35 501.92L1646.6 490.1L1646.85 479.1L1647 473.06L1647.1 469.35L1647.35 461.26L1647.6 455.17L1647.85 451.39L1648 450.33L1648.1 450.12L1648.35 451.45L1648.6 455.29L1648.85 461.46L1649 466.14L1649.1 469.58L1649.35 479.28L1649.6 490.19L1649.85 501.92L1650 509.21L1650.1 514.14L1650.35 526.52L1650.6 538.76L1650.85 550.63L1651 557.49L1651.1 561.98L1651.35 572.69L1651.6 582.6L1651.85 591.64L1652 596.64L1652.1 599.74L1652.35 606.87L1652.6 613.13L1652.85 618.56L1653 621.45L1653.1 623.27L1653.35 627.33L1653.6 630.77L1653.85 633.66L1654 635.17L1654.1 636.1L1654.35 638.15L1654.6 639.86L1654.85 641.28L1655 642.02L1655.1 642.43L1655.35 643.31L1655.6 644.04L1655.85 644.64L1656 644.96L1656.1 645.11L1656.35 645.46L1656.6 645.74L1656.85 645.97L1657 646.08L1657.1 646.26L1657.35 646.68L1657.6 647.08L1657.85 647.45L1658 647.66L1658.1 647.7L1658.35 647.77L1658.6 647.84L1658.85 647.89L1659 647.91L1659.1 648L1659.2 648.08L1659.35 648.21L1659.45 648.29L1659.6 648.41L1659.7 648.48L1659.85 648.6L1659.95 648.67L1660 648.71L1660.1 648.73L1660.2 648.74L1660.35 648.77L1660.45 648.78L1660.6 648.8L1660.7 648.82L1660.85 648.83L1660.95 648.84L1661 648.85L1661.1 648.89L1661.2 648.93L1661.35 649L1661.45 649.04L1661.6 649.09L1661.7 649.13L1661.85 649.19L1661.95 649.22L1662 649.24L1662.1 649.22L1662.2 649.19L1662.35 649.16L1662.45 649.13L1662.6 649.09L1662.7 649.06L1662.85 649.02L1662.95 648.99L1663 648.98L1663.1 649.07L1663.2 649.17L1663.35 649.31L1663.45 649.4L1663.6 649.54L1663.7 649.63L1663.85 649.77L1663.95 649.86L1664 649.9L1664.1 649.92L1664.2 649.93L1664.35 649.94L1664.45 649.95L1664.6 649.97L1664.7 649.98L1664.85 649.99L1664.95 650L1665 650L1665.2 649.93L1665.45 649.83L1665.7 649.73L1665.95 649.62L1666 649.6L1666.2 649.62L1666.45 649.63L1666.7 649.64L1666.95 649.66L1667 649.66L1667.2 649.66L1667.45 649.65L1667.7 649.65L1667.95 649.64L1668 649.64L1668.2 649.75L1668.45 649.89L1668.7 650.02L1668.95 650.15L1669 650.17L1669.2 650.08L1669.45 649.95L1669.7 649.82L1669.95 649.67L1670 649.64L1670.2 649.63L1670.45 649.59L1670.7 649.53L1670.95 649.46L1671 649.44L1671.2 649.34L1671.45 649.18L1671.7 649L1671.95 648.78L1672 648.73L1672.2 648.53L1672.45 648.25L1672.7 647.93L1672.95 647.56L1673 647.49L1673.2 647.11L1673.45 646.59L1673.7 646.04L1673.95 645.44L1674 645.32L1674.2 644.92L1674.45 644.4L1674.7 643.86L1674.95 643.31L1675 643.21L1675.2 642.65L1675.45 641.97L1675.7 641.32L1675.95 640.72L1676 640.61L1676.2 640.27L1676.45 639.92L1676.7 639.68L1676.95 639.54L1677 639.52L1677.2 639.44L1677.45 639.44L1677.7 639.56L1677.95 639.79L1678 639.85L1678.2 640.14L1678.45 640.58L1678.7 641.09L1678.95 641.65L1679 641.76L1679.2 642.25L1679.45 642.88L1679.7 643.51L1679.95 644.13L1680 644.26L1680.2 644.76L1680.45 645.36L1680.7 645.93L1680.95 646.47L1681 646.57L1681.2 647.02L1681.45 647.55L1681.7 648.03L1681.95 648.47L1682 648.55L1682.2 648.78L1682.45 649.02L1682.7 649.23L1682.95 649.41L1683 649.44L1683.2 649.68L1683.45 649.95L1683.7 650.2L1683.95 650.43L1684 650.48L1684.2 650.52L1684.45 650.55L1684.7 650.57L1684.9 650.58L1684.95 650.58L1685 650.58L1685.15 650.57L1685.2 650.57L1685.4 650.55L1685.45 650.54L1685.65 650.52L1685.7 650.51L1685.9 650.48L1685.95 650.47L1686 650.47L1686.15 650.45L1686.2 650.45L1686.4 650.43L1686.45 650.42L1686.65 650.4L1686.7 650.39L1686.9 650.37L1686.95 650.36L1687 650.36L1687.15 650.35L1687.2 650.35L1687.4 650.34L1687.45 650.33L1687.65 650.32L1687.7 650.32L1687.9 650.31L1687.95 650.3L1688 650.3L1688.15 650.3L1688.2 650.3L1688.4 650.3L1688.45 650.3L1688.65 650.3L1688.7 650.3L1688.9 650.3L1688.95 650.3L1689 650.29L1689.15 650.32L1689.2 650.33L1689.4 650.37L1689.45 650.38L1689.65 650.42L1689.7 650.43L1689.9 650.46L1689.95 650.47L1690 650.48L1690.15 650.51L1690.2 650.52L1690.4 650.55L1690.45 650.56L1690.65 650.6L1690.7 650.61L1690.9 650.64L1690.95 650.65L1691 650.66L1691.15 650.68L1691.2 650.68L1691.4 650.71L1691.45 650.72L1691.65 650.74L1691.7 650.75L1691.9 650.77L1691.95 650.78L1692 650.79L1692.15 650.81L1692.2 650.82L1692.4 650.85L1692.45 650.86L1692.65 650.89L1692.7 650.9L1692.9 650.93L1692.95 650.93L1693 650.94L1693.15 651L1693.2 651.02L1693.4 651.11L1693.45 651.13L1693.65 651.21L1693.7 651.23L1693.9 651.31L1693.95 651.33L1694 651.35L1694.15 651.27L1694.2 651.24L1694.4 651.13L1694.45 651.1L1694.65 650.99L1694.7 650.96L1694.9 650.85L1694.95 650.82L1695 650.79L1695.15 650.83L1695.2 650.85L1695.4 650.91L1695.65 650.98L1695.9 651.05L1696 651.08L1696.15 651.18L1696.4 651.34L1696.65 651.5L1696.9 651.66L1697 651.72L1697.15 651.54L1697.4 651.23L1697.65 650.92L1697.9 650.61L1698 650.48L1698.15 650.48L1698.4 650.47L1698.65 650.45L1698.9 650.42L1699 650.41L1699.15 650.38L1699.4 650.32L1699.65 650.25L1699.9 650.17L1700 650.14L1700.15 650.07L1700.4 649.95L1700.65 649.81L1700.9 649.67L1701 649.6L1701.15 649.52L1701.4 649.36L1701.65 649.19L1701.9 649.02L1702 648.95L1702.15 648.81L1702.4 648.58L1702.65 648.35L1702.9 648.12L1703 648.02L1703.15 647.91L1703.4 647.73L1703.65 647.56L1703.9 647.41L1704 647.35L1704.15 647.22L1704.4 647.01L1704.65 646.84L1704.9 646.68L1705 646.63L1705.15 646.61L1705.4 646.61L1705.65 646.63L1705.9 646.69L1706 646.72L1706.15 646.71L1706.4 646.71L1706.65 646.74L1706.9 646.79L1707 646.82L1707.15 647.01L1707.4 647.35L1707.65 647.7L1707.9 648.05L1708 648.19L1708.15 648.37L1708.4 648.66L1708.65 648.96L1708.9 649.24L1709 649.35L1709.15 649.41L1709.4 649.49L1709.65 649.56L1709.9 649.62L1710 649.64L1710.15 649.69L1710.4 649.75L1710.65 649.81L1710.9 649.85L1711 649.87L1711.15 649.96L1711.4 650.11L1711.65 650.25L1711.9 650.37L1712 650.42L1712.15 650.41L1712.4 650.39L1712.65 650.35L1712.9 650.31L1713 650.3L1713.15 650.35L1713.4 650.45L1713.65 650.53L1713.9 650.62L1714 650.65L1714.1 650.66L1714.15 650.66L1714.35 650.67L1714.4 650.67L1714.6 650.68L1714.65 650.69L1714.85 650.69L1714.9 650.7L1715 650.7L1715.1 650.68L1715.15 650.68L1715.35 650.64L1715.4 650.64L1715.6 650.6L1715.65 650.59L1715.85 650.56L1715.9 650.55L1716 650.53L1716.1 650.52L1716.15 650.52L1716.35 650.5L1716.4 650.49L1716.6 650.47L1716.65 650.47L1716.85 650.44L1716.9 650.44L1717 650.43L1717.1 650.41L1717.15 650.39L1717.35 650.35L1717.4 650.34L1717.6 650.29L1717.65 650.28L1717.85 650.23L1717.9 650.22L1718 650.2L1718.1 650.17L1718.15 650.16L1718.35 650.1L1718.4 650.09L1718.6 650.04L1718.65 650.03L1718.85 649.97L1718.9 649.96L1719 649.93L1719.1 649.97L1719.15 649.99L1719.35 650.07L1719.4 650.09L1719.6 650.17L1719.65 650.19L1719.85 650.26L1719.9 650.28L1720 650.32L1720.1 650.33L1720.15 650.34L1720.35 650.36L1720.4 650.37L1720.6 650.39L1720.65 650.39L1720.85 650.41L1720.9 650.42L1721 650.43L1721.1 650.39L1721.15 650.37L1721.35 650.3L1721.4 650.28L1721.6 650.21L1721.65 650.19L1721.85 650.11L1721.9 650.09L1722 650.05L1722.1 650.04L1722.15 650.03L1722.35 650L1722.4 649.99L1722.6 649.96L1722.65 649.95L1722.85 649.91L1722.9 649.9L1723 649.88L1723.1 649.88L1723.15 649.88L1723.35 649.87L1723.4 649.86L1723.6 649.85L1723.65 649.84L1723.85 649.82L1723.9 649.81L1724 649.79L1724.1 649.74L1724.15 649.71L1724.35 649.58L1724.4 649.55L1724.6 649.41L1724.65 649.38L1724.85 649.23L1724.9 649.19L1725 649.11L1725.1 649.1L1725.15 649.09L1725.35 649.06L1725.4 649.05L1725.6 648.99L1725.65 648.98L1725.85 648.89L1725.9 648.86L1726 648.81L1726.1 648.73L1726.35 648.5L1726.6 648.22L1726.85 647.87L1727 647.62L1727.1 647.36L1727.35 646.64L1727.6 645.84L1727.85 644.94L1728 644.35L1728.1 644.01L1728.35 643.09L1728.6 642.06L1728.85 640.92L1729 640.18L1729.1 639.65L1729.35 638.23L1729.6 636.73L1729.85 635.14L1730 634.15L1730.1 633.52L1730.35 631.92L1730.6 630.28L1730.85 628.65L1731 627.69L1731.1 626.98L1731.35 625.28L1731.6 623.68L1731.85 622.21L1732 621.42L1732.1 620.98L1732.35 620.02L1732.6 619.32L1732.85 618.9L1733 618.78L1733.1 618.72L1733.35 618.79L1733.6 619.15L1733.85 619.8L1734 620.3L1734.1 620.74L1734.35 621.99L1734.6 623.41L1734.85 624.97L1735 625.96L1735.1 626.62L1735.35 628.31L1735.6 630.04L1735.85 631.76L1736 632.78L1736.1 633.41L1736.35 634.94L1736.6 636.4L1736.7 636.96L1736.85 637.77L1736.95 638.3L1737 638.56L1737.1 639.16L1737.2 639.75L1737.35 640.6L1737.45 641.15L1737.6 641.94L1737.7 642.44L1737.85 643.17L1737.95 643.63L1738 643.85L1738.1 644.21L1738.2 644.55L1738.35 645.03L1738.45 645.33L1738.6 645.75L1738.7 646.01L1738.85 646.37L1738.95 646.6L1739 646.7L1739.1 646.88L1739.2 647.05L1739.35 647.28L1739.45 647.41L1739.6 647.6L1739.7 647.71L1739.85 647.86L1739.95 647.94L1740 647.98L1740.1 648.19L1740.2 648.38L1740.35 648.66L1740.45 648.84L1740.6 649.1L1740.7 649.26L1740.85 649.5L1740.95 649.65L1741 649.72L1741.1 649.78L1741.2 649.83L1741.35 649.9L1741.45 649.94L1741.6 649.99L1741.7 650.03L1741.85 650.07L1741.95 650.1L1742 650.12L1742.1 650.15L1742.2 650.17L1742.35 650.21L1742.45 650.24L1742.6 650.27L1742.7 650.29L1742.85 650.32L1742.95 650.34L1743 650.34L1743.1 650.33L1743.2 650.32L1743.35 650.3L1743.45 650.29L1743.6 650.26L1743.7 650.25L1743.85 650.22L1743.95 650.2L1744 650.2L1744.1 650.15L1744.2 650.11L1744.35 650.04L1744.45 649.99L1744.6 649.92L1744.7 649.87L1744.85 649.8L1744.95 649.75L1745 649.73L1745.1 649.76L1745.2 649.79L1745.35 649.83L1745.45 649.85L1745.6 649.89L1745.7 649.92L1745.85 649.96L1745.95 649.99L1746 650L1746.1 650.03L1746.2 650.05L1746.35 650.09L1746.45 650.12L1746.6 650.16L1746.7 650.19L1746.85 650.23L1746.95 650.25L1747 650.26L1747.1 650.21L1747.2 650.16L1747.35 650.08L1747.45 650.03L1747.6 649.95L1747.7 649.9L1747.85 649.81L1747.95 649.76L1748 649.73L1748.1 649.73L1748.2 649.73L1748.35 649.73L1748.45 649.73L1748.6 649.72L1748.7 649.72L1748.85 649.71L1748.95 649.71L1749 649.71L1749.1 649.71L1749.2 649.72L1749.35 649.73L1749.45 649.74L1749.6 649.74L1749.7 649.75L1749.85 649.75L1749.95 649.75L1750 649.75L1750.1 649.75L1750.2 649.75L1750.35 649.75L1750.45 649.75L1750.6 649.74L1750.7 649.74L1750.85 649.73L1750.95 649.72L1751 649.71L1751.1 649.72L1751.2 649.72L1751.35 649.73L1751.45 649.73L1751.6 649.73L1751.7 649.73L1751.85 649.72L1751.95 649.71L1752 649.7L1752.1 649.69L1752.2 649.66L1752.45 649.6L1752.7 649.52L1752.95 649.43L1753 649.41L1753.2 649.2L1753.45 648.94L1753.7 648.65L1753.95 648.34L1754 648.28L1754.2 648.07L1754.45 647.79L1754.7 647.5L1754.95 647.18L1755 647.12L1755.2 646.95L1755.45 646.72L1755.7 646.47L1755.95 646.22L1756 646.17L1756.2 645.75L1756.45 645.22L1756.7 644.68L1756.95 644.16L1757 644.05L1757.2 643.76L1757.45 643.41L1757.7 643.07L1757.95 642.76L1758 642.7L1758.2 642.54L1758.45 642.37L1758.7 642.24L1758.95 642.15L1759 642.14L1759.2 642.05L1759.45 641.98L1759.7 641.97L1759.95 642.01L1760 642.02L1760.2 642.03L1760.45 642.08L1760.7 642.18L1760.95 642.32L1761 642.35L1761.2 642.57L1761.45 642.87L1761.7 643.2L1761.95 643.55L1762 643.62L1762.2 643.98L1762.45 644.43L1762.7 644.9L1762.95 645.36L1763 645.46L1763.2 645.73L1763.45 646.08L1763.7 646.41L1763.95 646.73L1764 646.79L1764.2 646.95L1764.45 647.14L1764.7 647.3L1764.95 647.45L1765 647.48L1765.2 647.72L1765.45 648L1765.7 648.27L1765.95 648.52L1766 648.56L1766.1 648.64L1766.2 648.71L1766.35 648.81L1766.45 648.88L1766.6 648.97L1766.7 649.03L1766.85 649.11L1766.95 649.16L1767 649.19L1767.1 649.27L1767.2 649.36L1767.35 649.48L1767.45 649.55L1767.6 649.67L1767.7 649.74L1767.85 649.84L1767.95 649.91L1768 649.94L1768.1 649.97L1768.2 649.99L1768.35 650.02L1768.45 650.03L1768.6 650.06L1768.7 650.07L1768.85 650.09L1768.95 650.1L1769 650.11L1769.1 650.13L1769.2 650.16L1769.35 650.2L1769.45 650.22L1769.6 650.25L1769.7 650.27L1769.85 650.3L1769.95 650.32L1770 650.33L1770.1 650.35L1770.2 650.38L1770.35 650.41L1770.45 650.43L1770.6 650.45L1770.7 650.47L1770.85 650.5L1770.95 650.52L1771 650.52L1771.1 650.57L1771.2 650.61L1771.35 650.68L1771.45 650.72L1771.6 650.78L1771.7 650.83L1771.85 650.89L1771.95 650.93L1772 650.95L1772.1 650.96L1772.2 650.96L1772.35 650.96L1772.45 650.96L1772.6 650.97L1772.7 650.97L1772.85 650.97L1772.95 650.97L1773 650.97L1773.1 650.92L1773.2 650.87L1773.35 650.79L1773.45 650.74L1773.6 650.66L1773.7 650.61L1773.85 650.53L1773.95 650.48L1774 650.45L1774.1 650.47L1774.2 650.49L1774.35 650.51L1774.45 650.53L1774.6 650.56L1774.7 650.57L1774.85 650.6L1774.95 650.62L1775 650.62L1775.1 650.57L1775.2 650.53L1775.35 650.45L1775.45 650.4L1775.6 650.33L1775.7 650.28L1775.85 650.2L1775.95 650.15L1776 650.12L1776.1 650.12L1776.2 650.12L1776.35 650.11L1776.45 650.1L1776.6 650.09L1776.7 650.08L1776.85 650.07L1776.95 650.06L1777 650.05L1777.1 650.04L1777.2 650.03L1777.35 650.01L1777.45 649.99L1777.6 649.97L1777.7 649.95L1777.85 649.91L1777.95 649.89L1778 649.87L1778.1 649.85L1778.2 649.83L1778.35 649.79L1778.45 649.76L1778.6 649.71L1778.7 649.68L1778.85 649.61L1778.95 649.56L1779 649.54L1779.1 649.43L1779.2 649.31L1779.35 649.13L1779.45 649L1779.6 648.8L1779.7 648.66L1779.85 648.43L1779.95 648.27L1780 648.19L1780.1 648.07L1780.2 647.95L1780.35 647.74L1780.45 647.6L1780.6 647.36L1780.7 647.2L1780.85 646.94L1780.95 646.75L1781 646.65L1781.1 646.45L1781.2 646.24L1781.35 645.9L1781.45 645.67L1781.6 645.3L1781.7 645.04L1781.85 644.64L1781.95 644.35L1782 644.21L1782.1 643.87L1782.2 643.52L1782.35 642.98L1782.45 642.61L1782.6 642.04L1782.7 641.64L1782.85 641.04L1783 640.43L1783.1 640.08L1783.35 639.2L1783.6 638.29L1783.85 637.37L1784 636.81L1784.1 636.4L1784.35 635.37L1784.6 634.37L1784.85 633.42L1785 632.89L1785.1 632.58L1785.35 631.88L1785.6 631.29L1785.85 630.81L1786 630.59L1786.1 630.42L1786.35 630.09L1786.6 629.92L1786.85 629.91L1787 629.98L1787.1 630.07L1787.35 630.42L1787.6 630.9L1787.85 631.5L1788 631.91L1788.1 632.28L1788.35 633.24L1788.6 634.27L1788.85 635.35L1789 636.02L1789.1 636.42L1789.35 637.43L1789.6 638.44L1789.85 639.43L1790 640.02L1790.1 640.37L1790.35 641.22L1790.6 642.03L1790.85 642.79L1791 643.22L1791.1 643.55L1791.35 644.31L1791.6 645.02L1791.85 645.67L1792 646.03L1792.1 646.2L1792.35 646.6L1792.6 646.95L1792.85 647.25L1793 647.4L1793.1 647.51L1793.35 647.73L1793.6 647.92L1793.85 648.07L1793.95 648.12L1794 648.14L1794.1 648.2L1794.2 648.26L1794.35 648.34L1794.45 648.38L1794.6 648.44L1794.7 648.48L1794.85 648.52L1794.95 648.55L1795 648.56L1795.1 648.53L1795.2 648.49L1795.35 648.44L1795.45 648.4L1795.6 648.33L1795.7 648.28L1795.85 648.21L1795.95 648.16L1796 648.13L1796.1 648.17L1796.2 648.21L1796.35 648.27L1796.45 648.3L1796.6 648.35L1796.7 648.39L1796.85 648.43L1796.95 648.46L1797 648.48L1797.1 648.52L1797.2 648.55L1797.35 648.61L1797.45 648.64L1797.6 648.69L1797.7 648.73L1797.85 648.77L1797.95 648.8L1798 648.82L1798.1 648.84L1798.2 648.86L1798.35 648.88L1798.45 648.9L1798.6 648.93L1798.7 648.94L1798.85 648.96L1798.95 648.97L1799 648.98L1799.1 648.93L1799.2 648.88L1799.35 648.8L1799.45 648.75L1799.6 648.66L1799.7 648.61L1799.85 648.52L1799.95 648.46L1800 648.44L1800.1 648.4L1800.2 648.37L1800.35 648.32L1800.45 648.29L1800.6 648.23L1800.7 648.19L1800.85 648.13L1800.95 648.09L1801 648.07L1801.1 648L1801.2 647.93L1801.35 647.82L1801.45 647.75L1801.6 647.63L1801.7 647.55L1801.85 647.43L1801.95 647.35L1802 647.31L1802.1 647.28L1802.2 647.24L1802.35 647.19L1802.45 647.15L1802.6 647.09L1802.7 647.04L1802.85 646.96L1802.95 646.9L1803 646.87L1803.1 646.83L1803.2 646.78L1803.35 646.69L1803.45 646.62L1803.6 646.51L1803.7 646.42L1803.85 646.27L1803.95 646.16L1804 646.11L1804.1 645.89L1804.2 645.66L1804.35 645.29L1804.45 645.02L1804.6 644.59L1804.7 644.29L1804.85 643.79L1804.95 643.43L1805 643.24L1805.1 642.95L1805.2 642.64L1805.35 642.11L1805.45 641.72L1805.6 641.08L1805.7 640.6L1805.85 639.82L1805.95 639.25L1806 638.94L1806.1 638.16L1806.2 637.33L1806.35 635.98L1806.45 635.02L1806.6 633.47L1806.7 632.35L1806.85 630.57L1806.95 629.29L1807 628.62L1807.1 627.33L1807.2 625.96L1807.45 622.2L1807.7 617.93L1807.95 613.12L1808 612.09L1808.2 607.74L1808.45 601.81L1808.7 595.3L1808.95 588.26L1809 586.79L1809.2 580.75L1809.45 572.81L1809.7 564.5L1809.95 555.91L1810 554.17L1810.2 547.02L1810.45 538.07L1810.7 529.27L1810.95 520.78L1811 519.14L1811.2 512.88L1811.45 505.72L1811.7 499.48L1811.95 494.37L1812 493.5L1812.2 490.75L1812.45 488.62L1812.7 488.05L1812.95 489.05L1813 489.44L1813.2 491.47L1813.45 495.3L1813.7 500.44L1813.95 506.7L1814 508.07L1814.2 513.8L1814.45 521.6L1814.7 529.91L1814.95 538.54L1815 540.29L1815.2 547.37L1815.45 556.19L1815.7 564.86L1815.95 573.25L1816 574.89L1816.2 581.12L1816.45 588.5L1816.7 595.37L1816.95 601.71L1817 602.91L1817.2 607.63L1817.45 613.02L1817.7 617.85L1817.95 622.14L1818 622.94L1818.2 625.94L1818.45 629.27L1818.7 632.16L1818.95 634.65L1819 635.11L1819.2 636.73L1819.45 638.48L1819.7 639.95L1819.95 641.19L1820 641.41L1820.2 642.3L1820.45 643.26L1820.7 644.07L1820.95 644.76L1821 644.89L1821.2 645.16L1821.45 645.44L1821.7 645.64L1821.95 645.79L1822 645.81L1822.2 646.07L1822.45 646.35L1822.7 646.61L1822.95 646.84L1823 646.88L1823.2 646.86L1823.45 646.82L1823.7 646.77L1823.95 646.7L1824 646.69L1824.2 646.94L1824.45 647.25L1824.7 647.55L1824.95 647.84L1825 647.9L1825.2 647.9L1825.45 647.89L1825.7 647.87L1825.95 647.85L1826 647.84L1826.2 647.95L1826.45 648.08L1826.7 648.2L1826.95 648.32L1827 648.34L1827.2 648.43L1827.45 648.54L1827.7 648.64L1827.95 648.74L1828 648.76L1828.2 648.67L1828.45 648.55L1828.7 648.42L1828.95 648.28L1829 648.25L1829.2 648.23L1829.45 648.19L1829.7 648.14L1829.95 648.06L1830 648.04L1830.2 647.99L1830.45 647.9L1830.7 647.77L1830.95 647.61L1831 647.57L1831.2 647.37L1831.45 647.08L1831.7 646.73L1831.95 646.33L1832 646.24L1832.2 645.85L1832.45 645.29L1832.7 644.66L1832.95 643.96L1833 643.8L1833.2 643.2L1833.45 642.37L1833.7 641.46L1833.95 640.46L1834 640.25L1834.2 639.31L1834.45 638.06L1834.7 636.75L1834.95 635.37L1835 635.09L1835.2 633.97L1835.45 632.54L1835.7 631.09L1835.95 629.64L1836 629.35L1836.2 628.18L1836.45 626.76L1836.7 625.4L1836.95 624.15L1837 623.91L1837.2 623.09L1837.45 622.2L1837.7 621.48L1837.95 620.97L1838 620.89L1838.2 620.63L1838.45 620.5L1838.7 620.61L1838.95 620.94L1839 621.04L1839.2 621.49L1839.45 622.24L1839.7 623.16L1839.95 624.24L1840 624.47L1840.2 625.5L1840.45 626.86L1840.7 628.3L1840.95 629.78L1841 630.08L1841.2 631.23L1841.45 632.67L1841.7 634.09L1841.95 635.47L1842 635.74L1842.2 636.82L1842.45 638.12L1842.7 639.34L1842.95 640.49L1843 640.71L1843.15 641.45L1843.2 641.69L1843.4 642.62L1843.45 642.84L1843.65 643.71L1843.7 643.91L1843.9 644.71L1843.95 644.9L1844 645.09L1844.15 645.47L1844.2 645.6L1844.4 646.06L1844.45 646.17L1844.65 646.57L1844.7 646.66L1844.9 647.01L1844.95 647.09L1845 647.17L1845.15 647.36L1845.2 647.42L1845.4 647.64L1845.45 647.69L1845.65 647.86L1845.7 647.9L1845.9 648.03L1845.95 648.06L1846 648.09L1846.15 648.29L1846.2 648.36L1846.4 648.6L1846.45 648.66L1846.65 648.88L1846.7 648.93L1846.9 649.13L1846.95 649.18L1847 649.22L1847.15 649.28L1847.2 649.3L1847.4 649.36L1847.45 649.37L1847.65 649.42L1847.7 649.43L1847.9 649.46L1847.95 649.47L1848 649.48L1848.15 649.46L1848.2 649.46L1848.4 649.43L1848.45 649.42L1848.65 649.38L1848.7 649.37L1848.9 649.33L1848.95 649.32L1849 649.31L1849.15 649.44L1849.2 649.48L1849.4 649.65L1849.45 649.69L1849.65 649.86L1849.7 649.9L1849.9 650.06L1849.95 650.11L1850 650.15L1850.15 650.12L1850.2 650.11L1850.4 650.07L1850.45 650.06L1850.65 650.02L1850.7 650.01L1850.9 649.97L1850.95 649.96L1851 649.95L1851.15 649.99L1851.2 650L1851.4 650.04L1851.45 650.05L1851.65 650.1L1851.7 650.11L1851.9 650.15L1851.95 650.16L1852 650.17L1852.15 650.15L1852.2 650.14L1852.4 650.11L1852.45 650.1L1852.65 650.07L1852.7 650.06L1852.9 650.03L1852.95 650.02L1853 650.01L1853.15 650L1853.2 649.99L1853.4 649.97L1853.45 649.96L1853.65 649.93L1853.7 649.92L1853.9 649.89L1853.95 649.88L1854 649.87L1854.15 649.82L1854.2 649.8L1854.4 649.71L1854.45 649.69L1854.65 649.6L1854.7 649.57L1854.9 649.47L1854.95 649.44L1855 649.42L1855.15 649.45L1855.2 649.46L1855.4 649.49L1855.45 649.49L1855.65 649.51L1855.7 649.51L1855.9 649.5L1855.95 649.49L1856 649.49L1856.15 649.34L1856.2 649.29L1856.4 649.07L1856.45 649.01L1856.65 648.76L1856.7 648.7L1856.9 648.41L1856.95 648.34L1857 648.26L1857.15 648.04L1857.2 647.97L1857.4 647.64L1857.45 647.55L1857.65 647.18L1857.7 647.08L1857.9 646.66L1857.95 646.55L1858 646.44L1858.15 646.11L1858.2 646L1858.4 645.51L1858.45 645.38L1858.65 644.84L1858.7 644.7L1858.9 644.1L1858.95 643.95L1859 643.79L1859.15 643.25L1859.4 642.31L1859.65 641.3L1859.9 640.24L1860 639.8L1860.15 639.15L1860.4 638.03L1860.65 636.89L1860.9 635.72L1861 635.26L1861.15 634.51L1861.4 633.29L1861.65 632.1L1861.9 630.97L1862 630.54L1862.15 629.96L1862.4 629.08L1862.65 628.33L1862.9 627.72L1863 627.52L1863.15 627.18L1863.4 626.76L1863.65 626.52L1863.9 626.47L1864 626.5L1864.15 626.74L1864.4 627.28L1864.65 627.98L1864.9 628.82L1865 629.2L1865.15 629.78L1865.4 630.83L1865.45 631.05L1865.65 631.95L1865.7 632.18L1865.9 633.13L1865.95 633.37L1866 633.62L1866.15 634.34L1866.2 634.58L1866.4 635.55L1866.45 635.79L1866.65 636.75L1866.7 636.99L1866.9 637.95L1866.95 638.18L1867 638.42L1867.15 639.03L1867.2 639.23L1867.4 640.02L1867.45 640.22L1867.65 640.97L1867.7 641.15L1867.9 641.85L1867.95 642.02L1868 642.19L1868.15 642.76L1868.2 642.94L1868.4 643.65L1868.45 643.82L1868.65 644.48L1868.7 644.63L1868.9 645.23L1868.95 645.38L1869 645.52L1869.15 645.99L1869.2 646.14L1869.4 646.72L1869.45 646.86L1869.65 647.39L1869.7 647.52L1869.9 648L1869.95 648.11L1870 648.23L1870.15 648.42L1870.2 648.48L1870.4 648.69L1870.45 648.74L1870.65 648.92L1870.7 648.97L1870.9 649.11L1870.95 649.15L1871 649.18L1871.15 649.35L1871.2 649.4L1871.4 649.6L1871.45 649.65L1871.65 649.82L1871.7 649.86L1871.9 650.02L1871.95 650.06L1872 650.09L1872.15 650.19L1872.2 650.22L1872.4 650.34L1872.45 650.36L1872.65 650.47L1872.7 650.49L1872.9 650.58L1872.95 650.6L1873 650.63L1873.15 650.6L1873.2 650.6L1873.4 650.56L1873.45 650.55L1873.65 650.51L1873.7 650.5L1873.9 650.45L1873.95 650.44L1874 650.43L1874.15 650.47L1874.2 650.48L1874.4 650.54L1874.45 650.55L1874.65 650.6L1874.7 650.61L1874.9 650.66L1874.95 650.67L1875 650.68L1875.15 650.6L1875.2 650.57L1875.4 650.45L1875.45 650.42L1875.65 650.3L1875.7 650.27L1875.9 650.14L1875.95 650.11L1876 650.08L1876.15 650.1L1876.2 650.11L1876.4 650.13L1876.45 650.14L1876.65 650.16L1876.7 650.16L1876.9 650.18L1876.95 650.19L1877 650.19L1877.15 650.19L1877.2 650.18L1877.4 650.18L1877.45 650.17L1877.65 650.16L1877.7 650.16L1877.9 650.15L1877.95 650.14L1878 650.14L1878.15 650.15L1878.2 650.16L1878.4 650.17L1878.45 650.17L1878.65 650.18L1878.7 650.18L1878.9 650.18L1878.95 650.18L1879 650.18L1879.15 650.2L1879.2 650.2L1879.4 650.22L1879.45 650.22L1879.65 650.23L1879.7 650.24L1879.9 650.24L1879.95 650.24L1880 650.24L1880.15 650.23L1880.2 650.23L1880.4 650.22L1880.45 650.21L1880.65 650.19L1880.7 650.18L1880.9 650.14L1880.95 650.13L1881 650.12L1881.15 649.94L1881.2 649.87L1881.4 649.62L1881.45 649.55L1881.65 649.28L1881.7 649.21L1881.9 648.93L1881.95 648.85L1882 648.78L1882.15 648.66L1882.2 648.62L1882.4 648.44L1882.45 648.4L1882.65 648.21L1882.7 648.16L1882.9 647.95L1882.95 647.9L1883 647.84L1883.15 647.71L1883.2 647.66L1883.4 647.46L1883.45 647.41L1883.65 647.2L1883.7 647.14L1883.9 646.92L1883.95 646.86L1884 646.8L1884.15 646.53L1884.2 646.44L1884.45 645.97L1884.7 645.49L1884.95 645L1885 644.9L1885.2 644.65L1885.45 644.33L1885.7 644.01L1885.95 643.7L1886 643.64L1886.2 643.33L1886.45 642.96L1886.7 642.62L1886.95 642.3L1887 642.24L1887.2 641.98L1887.45 641.68L1887.7 641.42L1887.9 641.26L1887.95 641.22L1888 641.19L1888.15 641.16L1888.2 641.15L1888.4 641.16L1888.45 641.16L1888.65 641.21L1888.7 641.23L1888.9 641.32L1888.95 641.35L1889 641.38L1889.15 641.39L1889.2 641.4L1889.4 641.44L1889.45 641.46L1889.65 641.54L1889.7 641.56L1889.9 641.68L1889.95 641.71L1890 641.75L1890.15 642L1890.2 642.08L1890.4 642.44L1890.45 642.53L1890.65 642.9L1890.7 643L1890.9 643.39L1890.95 643.49L1891 643.59L1891.15 643.74L1891.2 643.79L1891.4 644L1891.45 644.05L1891.65 644.26L1891.7 644.31L1891.9 644.52L1891.95 644.58L1892 644.63L1892.15 644.9L1892.2 644.99L1892.4 645.35L1892.45 645.44L1892.65 645.79L1892.7 645.88L1892.9 646.22L1892.95 646.3L1893 646.38L1893.15 646.61L1893.2 646.68L1893.4 646.97L1893.45 647.04L1893.65 647.32L1893.7 647.38L1893.9 647.64L1893.95 647.7L1894 647.76L1894.15 647.94L1894.2 647.99L1894.4 648.21L1894.45 648.26L1894.65 648.46L1894.7 648.51L1894.9 648.69L1894.95 648.73L1895 648.78L1895.15 648.92L1895.2 648.97L1895.4 649.15L1895.45 649.19L1895.65 649.36L1895.7 649.4L1895.9 649.55L1895.95 649.59L1896 649.62L1896.15 649.65L1896.2 649.66L1896.4 649.68L1896.45 649.69L1896.65 649.7L1896.7 649.7L1896.9 649.71L1896.95 649.71L1897 649.71L1897.15 649.73L1897.2 649.73L1897.4 649.75L1897.45 649.75L1897.65 649.76L1897.7 649.76L1897.9 649.76L1897.95 649.76L1898 649.76L1898.15 649.84L1898.2 649.87L1898.4 649.97L1898.45 650L1898.65 650.1L1898.7 650.12L1898.9 650.22L1898.95 650.24L1899 650.27L1899.15 650.37L1899.2 650.4L1899.4 650.53L1899.45 650.56L1899.65 650.69L1899.7 650.72L1899.9 650.84L1899.95 650.88L1900 650.91L1900.15 650.88L1900.2 650.88L1900.4 650.84L1900.45 650.84L1900.65 650.8L1900.7 650.8L1900.9 650.76L1900.95 650.75L1901 650.74L1901.15 650.75L1901.2 650.75L1901.4 650.75L1901.45 650.75L1901.65 650.76L1901.7 650.76L1901.9 650.76L1901.95 650.76L1902 650.76L1902.15 650.77L1902.2 650.77L1902.4 650.78L1902.45 650.79L1902.65 650.79L1902.7 650.8L1902.9 650.8L1902.95 650.8L1903 650.8L1903.15 650.75L1903.2 650.73L1903.4 650.66L1903.45 650.64L1903.65 650.56L1903.7 650.54L1903.9 650.46L1903.95 650.44L1904 650.42L1904.15 650.32L1904.2 650.29L1904.4 650.16L1904.45 650.13L1904.65 649.99L1904.7 649.96L1904.9 649.82L1904.95 649.78L1905 649.74L1905.15 649.8L1905.2 649.81L1905.4 649.88L1905.45 649.89L1905.65 649.95L1905.7 649.96L1905.9 650.01L1905.95 650.02L1906 650.03L1906.15 649.95L1906.2 649.92L1906.4 649.79L1906.45 649.76L1906.65 649.63L1906.7 649.59L1906.9 649.45L1906.95 649.42L1907 649.38L1907.15 649.18L1907.2 649.11L1907.4 648.83L1907.45 648.76L1907.65 648.48L1907.7 648.4L1907.9 648.11L1907.95 648.04L1908 647.96L1908.15 647.97L1908.2 647.97L1908.4 647.97L1908.45 647.97L1908.65 647.96L1908.7 647.96L1908.9 647.95L1908.95 647.95L1909 647.95L1909.15 647.86L1909.2 647.83L1909.4 647.71L1909.45 647.68L1909.65 647.56L1909.7 647.53L1909.9 647.41L1909.95 647.38L1910 647.35L1910.15 647.23L1910.2 647.19L1910.4 647.03L1910.45 647L1910.65 646.84L1910.7 646.81L1910.9 646.66L1910.95 646.62L1911 646.59L1911.15 646.45L1911.2 646.41L1911.4 646.23L1911.45 646.19L1911.65 646.03L1911.9 645.84L1912 645.77L1912.15 645.65L1912.4 645.48L1912.65 645.32L1912.9 645.19L1913 645.15L1913.15 645.08L1913.4 644.97L1913.65 644.9L1913.9 644.85L1914 644.84L1914.15 644.87L1914.4 644.94L1914.65 645.03L1914.9 645.14L1915 645.19L1915.15 645.29L1915.4 645.47L1915.65 645.67L1915.9 645.87L1916 645.96L1916.05 645.99L1916.15 646.05L1916.3 646.14L1916.4 646.2L1916.55 646.29L1916.65 646.35L1916.8 646.45L1916.9 646.51L1917 646.58L1917.05 646.64L1917.15 646.78L1917.3 646.98L1917.4 647.12L1917.55 647.32L1917.65 647.45L1917.8 647.65L1917.9 647.78L1918 647.91L1918.05 647.98L1918.15 648.1L1918.3 648.29L1918.4 648.42L1918.55 648.6L1918.65 648.72L1918.8 648.9L1918.9 649.01L1919 649.13L1919.05 649.14L1919.15 649.15L1919.3 649.18L1919.4 649.19L1919.55 649.21L1919.65 649.22L1919.8 649.23L1919.9 649.24L1920 649.24L1920.05 649.28L1920.15 649.35L1920.3 649.46L1920.4 649.53L1920.55 649.64L1920.65 649.71L1920.8 649.8L1920.9 649.87L1921 649.93L1921.05 649.94L1921.15 649.97L1921.3 650L1921.4 650.03L1921.55 650.06L1921.65 650.07L1921.8 650.1L1921.9 650.11L1922 650.13L1922.05 650.15L1922.15 650.2L1922.3 650.28L1922.4 650.33L1922.55 650.4L1922.65 650.44L1922.8 650.51L1922.9 650.55L1923 650.59L1923.05 650.6L1923.15 650.6L1923.3 650.6L1923.4 650.6L1923.55 650.6L1923.65 650.6L1923.8 650.6L1923.9 650.6L1924 650.6L1924.05 650.6L1924.15 650.61L1924.3 650.63L1924.4 650.64L1924.55 650.65L1924.65 650.66L1924.8 650.67L1924.9 650.67L1925 650.68L1925.05 650.68L1925.15 650.67L1925.3 650.65L1925.4 650.64L1925.55 650.63L1925.65 650.62L1925.8 650.6L1925.9 650.59L1926 650.58L1926.05 650.56L1926.15 650.52L1926.3 650.47L1926.4 650.43L1926.55 650.37L1926.65 650.33L1926.8 650.28L1926.9 650.24L1927 650.19L1927.05 650.17L1927.15 650.13L1927.3 650.07L1927.4 650.02L1927.55 649.95L1927.65 649.91L1927.8 649.84L1927.9 649.79L1928 649.74L1928.05 649.75L1928.15 649.76L1928.3 649.77L1928.4 649.78L1928.55 649.78L1928.65 649.79L1928.8 649.79L1928.9 649.79L1929 649.79L1929.05 649.79L1929.15 649.8L1929.3 649.81L1929.4 649.81L1929.55 649.81L1929.65 649.8L1929.8 649.79L1929.9 649.78L1930 649.77L1930.05 649.75L1930.15 649.72L1930.3 649.66L1930.4 649.61L1930.55 649.54L1930.65 649.49L1930.8 649.4L1930.9 649.34L1931 649.27L1931.05 649.23L1931.15 649.15L1931.3 649.01L1931.4 648.91L1931.55 648.76L1931.65 648.65L1931.8 648.48L1931.9 648.36L1932 648.23L1932.05 648.13L1932.15 647.93L1932.3 647.62L1932.4 647.4L1932.55 647.06L1932.65 646.83L1932.8 646.48L1932.9 646.23L1933 645.98L1933.05 645.89L1933.15 645.69L1933.3 645.4L1933.4 645.19L1933.55 644.87L1933.65 644.65L1933.8 644.32L1933.9 644.09L1934 643.86L1934.05 643.71L1934.15 643.42L1934.3 642.98L1934.4 642.68L1934.55 642.23L1934.65 641.92L1934.8 641.47L1934.9 641.16L1935 640.86L1935.05 640.77L1935.15 640.61L1935.3 640.38L1935.4 640.22L1935.55 639.99L1935.65 639.84L1935.8 639.63L1935.9 639.5L1936 639.37L1936.05 639.23L1936.15 638.96L1936.3 638.56L1936.4 638.31L1936.55 637.95L1936.65 637.72L1936.8 637.4L1936.9 637.21L1937 637.02L1937.05 636.97L1937.15 636.88L1937.3 636.78L1937.4 636.72L1937.55 636.67L1937.65 636.66L1937.8 636.66L1937.9 636.68L1938 636.72L1938.05 636.75L1938.15 636.8L1938.3 636.92L1938.4 637.02L1938.55 637.19L1938.65 637.32L1938.8 637.54L1938.9 637.7L1939 637.87L1939.05 637.93L1939.3 638.29L1939.55 638.7L1939.8 639.16L1940 639.55L1940.05 639.7L1940.3 640.44L1940.55 641.19L1940.8 641.95L1941 642.56L1941.05 642.68L1941.3 643.32L1941.55 643.93L1941.8 644.53L1942 644.99L1942.05 645.09L1942.3 645.54L1942.55 645.97L1942.8 646.36L1943 646.65L1943.05 646.75L1943.3 647.24L1943.55 647.69L1943.8 648.11L1944 648.43L1944.05 648.48L1944.3 648.73L1944.55 648.94L1944.8 649.13L1945 649.27L1945.05 649.26L1945.3 649.22L1945.55 649.15L1945.8 649.07L1946 648.99L1946.05 649.04L1946.3 649.3L1946.55 649.53L1946.8 649.76L1947 649.93L1947.05 649.94L1947.3 649.96L1947.55 649.98L1947.8 649.99L1948 650L1948.05 650.01L1948.3 650.05L1948.55 650.1L1948.8 650.13L1949 650.16L1949.05 650.16L1949.3 650.17L1949.55 650.18L1949.8 650.19L1950 650.19L1950.05 650.2L1950.3 650.25L1950.55 650.29L1950.8 650.34L1951 650.37L1951.05 650.35L1951.3 650.26L1951.55 650.17L1951.8 650.07L1952 650L1952.05 650.01L1952.3 650.07L1952.55 650.13L1952.8 650.18L1953 650.22L1953.05 650.2L1953.3 650.13L1953.55 650.05L1953.8 649.96L1954 649.88L1954.05 649.89L1954.3 649.9L1954.55 649.91L1954.8 649.91L1955 649.91L1955.05 649.87L1955.3 649.69L1955.55 649.49L1955.8 649.28L1956 649.11L1956.05 649.09L1956.3 648.98L1956.55 648.85L1956.8 648.72L1957 648.6L1957.05 648.58L1957.3 648.48L1957.55 648.36L1957.8 648.24L1958 648.13L1958.05 648.07L1958.3 647.76L1958.55 647.45L1958.8 647.13L1959 646.87L1959.05 646.82L1959.3 646.54L1959.55 646.27L1959.8 646.01L1960 645.8L1960.05 645.74L1960.3 645.46L1960.55 645.19L1960.8 644.95L1961 644.77L1961.05 644.73L1961.3 644.6L1961.55 644.49L1961.8 644.42L1962 644.38L1962.05 644.39L1962.3 644.42L1962.55 644.49L1962.8 644.6L1963 644.72L1963.05 644.75L1963.3 644.92L1963.55 645.12L1963.8 645.34L1964 645.54L1964.05 645.58L1964.3 645.78L1964.55 645.99L1964.8 646.22L1965 646.4L1965.05 646.46L1965.3 646.72L1965.55 646.99L1965.8 647.26L1966 647.48L1966.05 647.52L1966.3 647.75L1966.55 647.96L1966.8 648.17L1967 648.33L1967.05 648.39L1967.3 648.68L1967.55 648.95L1967.8 649.21L1968 649.41L1968.05 649.42L1968.3 649.47L1968.55 649.5L1968.8 649.52L1969 649.52L1969.05 649.54L1969.3 649.64L1969.55 649.72L1969.8 649.79L1970 649.84L1970.05 649.87L1970.3 650.03L1970.55 650.18L1970.8 650.32L1971 650.42L1971.05 650.42L1971.3 650.43L1971.55 650.42L1971.8 650.42L1972 650.41L1972.05 650.41L1972.3 650.42L1972.55 650.42L1972.8 650.43L1973 650.43L1973.05 650.43L1973.3 650.45L1973.55 650.47L1973.8 650.48L1974 650.49L1974.05 650.51L1974.3 650.58L1974.55 650.65L1974.8 650.71L1975 650.77L1975.05 650.78L1975.3 650.86L1975.55 650.93L1975.8 651.01L1976 650.69L1976.05 650.69L1976.3 650.69L1976.55 650.7L1976.8 650.7L1977 650.7L1977.05 650.7L1977.3 650.7L1977.55 650.71L1977.8 650.71L1978 650.71L1978.05 650.71L1978.3 650.71L1978.55 650.71L1978.8 650.71L1979 650.72L1979.05 650.72L1979.3 650.72L1979.55 650.72L1979.8 650.72L1980 650.72L1980.05 650.72L1980.3 650.72L1980.55 650.72L1980.8 650.72L1981 650.72L1981.05 650.72L1981.3 650.72L1981.55 650.72L1981.8 650.72L1982 650.72L1982.05 650.72L1982.3 650.72L1982.55 650.72L1982.8 650.72L1983 650.72L1983.05 650.72L1983.3 650.72L1983.55 650.72L1983.8 650.72L1984 650.72L1984.05 650.72L1984.3 650.72L1984.55 650.72L1984.8 650.72L1985 650.72L1985.05 650.72L1985.3 650.72L1986 650.72L1987 650.72L1988 650.72L1989 650.71L1990 650.71L1991 650.71L1992 650.7L1993 650.7L1994 650.7L1995 650.69L1996 650.69L1997 650.68L1998 650.68L1999 650.67L2000 650.67L2001 650.66L2002 650.66L2003 650.49L2004 650.92L2005 650.1L2006 650.61L2007 650.35L2008 650.78L2009 651.16L2010 650.84L2011 650.4L2012 650.27" fill="none" stroke="#000" stroke-width="3.5" stroke-linejoin="round" stroke-linecap="butt"/>
</svg>
</body>
</html>
